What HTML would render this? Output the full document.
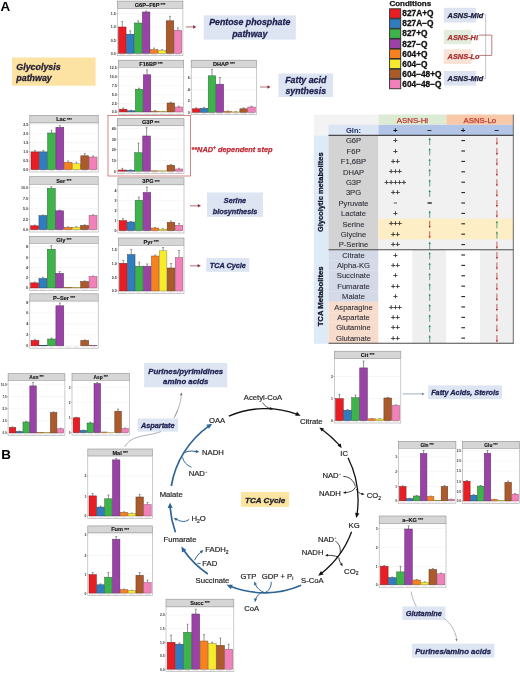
<!DOCTYPE html>
<html><head><meta charset="utf-8"><title>Figure</title>
<style>
html,body{margin:0;padding:0;background:#fff;}
body{width:520px;height:674px;overflow:hidden;}
svg{display:block;font-family:'Liberation Sans', Arial, sans-serif;}
</style></head><body>
<svg width="520" height="674" viewBox="0 0 520 674">
<rect x="0" y="0" width="520" height="674" fill="#ffffff"/>
<rect x="117.30" y="1.10" width="65.60" height="7.40" fill="#d6d6d6" stroke="#8f8f8f" stroke-width="0.6" />
<rect x="117.30" y="8.50" width="65.60" height="47.20" fill="#ffffff" stroke="#a8a8a8" stroke-width="0.6" />
<line x1="117.80" y1="13.80" x2="182.40" y2="13.80" stroke="#efefef" stroke-width="0.5" />
<text x="115.80" y="15.20" font-size="3.6" fill="#333" font-weight="bold" font-style="normal" text-anchor="end" >1.5</text>
<line x1="116.10" y1="13.80" x2="117.30" y2="13.80" stroke="#777" stroke-width="0.4" />
<line x1="117.80" y1="27.00" x2="182.40" y2="27.00" stroke="#efefef" stroke-width="0.5" />
<text x="115.80" y="28.40" font-size="3.6" fill="#333" font-weight="bold" font-style="normal" text-anchor="end" >1.0</text>
<line x1="116.10" y1="27.00" x2="117.30" y2="27.00" stroke="#777" stroke-width="0.4" />
<line x1="117.80" y1="40.20" x2="182.40" y2="40.20" stroke="#efefef" stroke-width="0.5" />
<text x="115.80" y="41.60" font-size="3.6" fill="#333" font-weight="bold" font-style="normal" text-anchor="end" >0.5</text>
<line x1="116.10" y1="40.20" x2="117.30" y2="40.20" stroke="#777" stroke-width="0.4" />
<line x1="117.80" y1="53.30" x2="182.40" y2="53.30" stroke="#efefef" stroke-width="0.5" />
<text x="115.80" y="54.70" font-size="3.6" fill="#333" font-weight="bold" font-style="normal" text-anchor="end" >0.0</text>
<line x1="116.10" y1="53.30" x2="117.30" y2="53.30" stroke="#777" stroke-width="0.4" />
<text x="150.10" y="6.82" font-size="5.6" font-weight="bold" fill="#111" stroke="#111" stroke-width="0.12" text-anchor="middle">G6P−F6P<tspan font-size="4.20" dy="-0.6"> ***</tspan></text>
<line x1="122.28" y1="27.00" x2="122.28" y2="21.50" stroke="#4a4a4a" stroke-width="0.6" />
<line x1="121.28" y1="21.50" x2="123.28" y2="21.50" stroke="#4a4a4a" stroke-width="0.5" />
<rect x="118.50" y="27.00" width="7.55" height="26.30" fill="#EA1C24" stroke="#7a2022" stroke-width="0.5" />
<line x1="130.22" y1="34.20" x2="130.22" y2="30.80" stroke="#4a4a4a" stroke-width="0.6" />
<line x1="129.22" y1="30.80" x2="131.22" y2="30.80" stroke="#4a4a4a" stroke-width="0.5" />
<rect x="126.45" y="34.20" width="7.55" height="19.10" fill="#2F7DBE" stroke="#2a4560" stroke-width="0.5" />
<line x1="138.17" y1="23.00" x2="138.17" y2="20.80" stroke="#4a4a4a" stroke-width="0.6" />
<line x1="137.17" y1="20.80" x2="139.17" y2="20.80" stroke="#4a4a4a" stroke-width="0.5" />
<rect x="134.40" y="23.00" width="7.55" height="30.30" fill="#3DB44A" stroke="#35603a" stroke-width="0.5" />
<line x1="146.12" y1="12.00" x2="146.12" y2="11.00" stroke="#4a4a4a" stroke-width="0.6" />
<line x1="145.12" y1="11.00" x2="147.12" y2="11.00" stroke="#4a4a4a" stroke-width="0.5" />
<rect x="142.35" y="12.00" width="7.55" height="41.30" fill="#9A42A6" stroke="#553560" stroke-width="0.5" />
<line x1="154.07" y1="49.60" x2="154.07" y2="48.00" stroke="#4a4a4a" stroke-width="0.6" />
<line x1="153.07" y1="48.00" x2="155.07" y2="48.00" stroke="#4a4a4a" stroke-width="0.5" />
<rect x="150.30" y="49.60" width="7.55" height="3.70" fill="#F7801F" stroke="#8a5a30" stroke-width="0.5" />
<line x1="162.03" y1="50.60" x2="162.03" y2="49.60" stroke="#4a4a4a" stroke-width="0.6" />
<line x1="161.03" y1="49.60" x2="163.03" y2="49.60" stroke="#4a4a4a" stroke-width="0.5" />
<rect x="158.25" y="50.60" width="7.55" height="2.70" fill="#F8EC2A" stroke="#8a8a40" stroke-width="0.5" />
<line x1="169.97" y1="20.80" x2="169.97" y2="16.30" stroke="#4a4a4a" stroke-width="0.6" />
<line x1="168.97" y1="16.30" x2="170.97" y2="16.30" stroke="#4a4a4a" stroke-width="0.5" />
<rect x="166.20" y="20.80" width="7.55" height="32.50" fill="#AC5A2A" stroke="#5a3a2a" stroke-width="0.5" />
<line x1="177.92" y1="30.20" x2="177.92" y2="27.90" stroke="#4a4a4a" stroke-width="0.6" />
<line x1="176.92" y1="27.90" x2="178.92" y2="27.90" stroke="#4a4a4a" stroke-width="0.5" />
<rect x="174.15" y="30.20" width="7.55" height="23.10" fill="#F280BA" stroke="#8a5a70" stroke-width="0.5" />
<rect x="119.67" y="54.00" width="5.20" height="0.90" fill="#e6dde2" stroke="none" stroke-width="0" />
<rect x="127.62" y="54.00" width="5.20" height="0.90" fill="#e6dde2" stroke="none" stroke-width="0" />
<rect x="135.57" y="54.00" width="5.20" height="0.90" fill="#e6dde2" stroke="none" stroke-width="0" />
<rect x="143.53" y="54.00" width="5.20" height="0.90" fill="#e6dde2" stroke="none" stroke-width="0" />
<rect x="151.47" y="54.00" width="5.20" height="0.90" fill="#e6dde2" stroke="none" stroke-width="0" />
<rect x="159.43" y="54.00" width="5.20" height="0.90" fill="#e6dde2" stroke="none" stroke-width="0" />
<rect x="167.38" y="54.00" width="5.20" height="0.90" fill="#e6dde2" stroke="none" stroke-width="0" />
<rect x="175.32" y="54.00" width="5.20" height="0.90" fill="#e6dde2" stroke="none" stroke-width="0" />
<rect x="118.30" y="60.20" width="65.40" height="7.30" fill="#d6d6d6" stroke="#8f8f8f" stroke-width="0.6" />
<rect x="118.30" y="67.50" width="65.40" height="46.90" fill="#ffffff" stroke="#a8a8a8" stroke-width="0.6" />
<line x1="118.80" y1="68.00" x2="183.20" y2="68.00" stroke="#efefef" stroke-width="0.5" />
<text x="116.80" y="69.40" font-size="3.6" fill="#333" font-weight="bold" font-style="normal" text-anchor="end" >12.5</text>
<line x1="117.10" y1="68.00" x2="118.30" y2="68.00" stroke="#777" stroke-width="0.4" />
<line x1="118.80" y1="76.70" x2="183.20" y2="76.70" stroke="#efefef" stroke-width="0.5" />
<text x="116.80" y="78.10" font-size="3.6" fill="#333" font-weight="bold" font-style="normal" text-anchor="end" >10.0</text>
<line x1="117.10" y1="76.70" x2="118.30" y2="76.70" stroke="#777" stroke-width="0.4" />
<line x1="118.80" y1="85.80" x2="183.20" y2="85.80" stroke="#efefef" stroke-width="0.5" />
<text x="116.80" y="87.20" font-size="3.6" fill="#333" font-weight="bold" font-style="normal" text-anchor="end" >7.5</text>
<line x1="117.10" y1="85.80" x2="118.30" y2="85.80" stroke="#777" stroke-width="0.4" />
<line x1="118.80" y1="94.80" x2="183.20" y2="94.80" stroke="#efefef" stroke-width="0.5" />
<text x="116.80" y="96.20" font-size="3.6" fill="#333" font-weight="bold" font-style="normal" text-anchor="end" >5.0</text>
<line x1="117.10" y1="94.80" x2="118.30" y2="94.80" stroke="#777" stroke-width="0.4" />
<line x1="118.80" y1="103.60" x2="183.20" y2="103.60" stroke="#efefef" stroke-width="0.5" />
<text x="116.80" y="105.00" font-size="3.6" fill="#333" font-weight="bold" font-style="normal" text-anchor="end" >2.5</text>
<line x1="117.10" y1="103.60" x2="118.30" y2="103.60" stroke="#777" stroke-width="0.4" />
<line x1="118.80" y1="112.00" x2="183.20" y2="112.00" stroke="#efefef" stroke-width="0.5" />
<text x="116.80" y="113.40" font-size="3.6" fill="#333" font-weight="bold" font-style="normal" text-anchor="end" >0.0</text>
<line x1="117.10" y1="112.00" x2="118.30" y2="112.00" stroke="#777" stroke-width="0.4" />
<text x="151.00" y="65.87" font-size="5.6" font-weight="bold" fill="#111" stroke="#111" stroke-width="0.12" text-anchor="middle">F16BP<tspan font-size="4.20" dy="-0.6"> ***</tspan></text>
<line x1="123.26" y1="109.20" x2="123.26" y2="108.00" stroke="#4a4a4a" stroke-width="0.6" />
<line x1="122.26" y1="108.00" x2="124.26" y2="108.00" stroke="#4a4a4a" stroke-width="0.5" />
<rect x="119.50" y="109.20" width="7.53" height="2.80" fill="#EA1C24" stroke="#7a2022" stroke-width="0.5" />
<line x1="131.19" y1="110.80" x2="131.19" y2="110.20" stroke="#4a4a4a" stroke-width="0.6" />
<line x1="130.19" y1="110.20" x2="132.19" y2="110.20" stroke="#4a4a4a" stroke-width="0.5" />
<rect x="127.42" y="110.80" width="7.53" height="1.20" fill="#2F7DBE" stroke="#2a4560" stroke-width="0.5" />
<line x1="139.11" y1="89.20" x2="139.11" y2="88.20" stroke="#4a4a4a" stroke-width="0.6" />
<line x1="138.11" y1="88.20" x2="140.11" y2="88.20" stroke="#4a4a4a" stroke-width="0.5" />
<rect x="135.35" y="89.20" width="7.53" height="22.80" fill="#3DB44A" stroke="#35603a" stroke-width="0.5" />
<line x1="147.04" y1="74.80" x2="147.04" y2="69.80" stroke="#4a4a4a" stroke-width="0.6" />
<line x1="146.04" y1="69.80" x2="148.04" y2="69.80" stroke="#4a4a4a" stroke-width="0.5" />
<rect x="143.27" y="74.80" width="7.53" height="37.20" fill="#9A42A6" stroke="#553560" stroke-width="0.5" />
<line x1="154.96" y1="111.20" x2="154.96" y2="110.50" stroke="#4a4a4a" stroke-width="0.6" />
<line x1="153.96" y1="110.50" x2="155.96" y2="110.50" stroke="#4a4a4a" stroke-width="0.5" />
<rect x="151.20" y="111.20" width="7.53" height="0.80" fill="#F7801F" stroke="#8a5a30" stroke-width="0.5" />
<line x1="162.89" y1="111.80" x2="162.89" y2="111.30" stroke="#4a4a4a" stroke-width="0.6" />
<line x1="161.89" y1="111.30" x2="163.89" y2="111.30" stroke="#4a4a4a" stroke-width="0.5" />
<rect x="159.12" y="111.60" width="7.53" height="0.40" fill="#F8EC2A" stroke="#8a8a40" stroke-width="0.5" />
<line x1="170.81" y1="103.00" x2="170.81" y2="102.20" stroke="#4a4a4a" stroke-width="0.6" />
<line x1="169.81" y1="102.20" x2="171.81" y2="102.20" stroke="#4a4a4a" stroke-width="0.5" />
<rect x="167.05" y="103.00" width="7.53" height="9.00" fill="#AC5A2A" stroke="#5a3a2a" stroke-width="0.5" />
<line x1="178.74" y1="107.00" x2="178.74" y2="106.20" stroke="#4a4a4a" stroke-width="0.6" />
<line x1="177.74" y1="106.20" x2="179.74" y2="106.20" stroke="#4a4a4a" stroke-width="0.5" />
<rect x="174.97" y="107.00" width="7.53" height="5.00" fill="#F280BA" stroke="#8a5a70" stroke-width="0.5" />
<rect x="120.66" y="112.70" width="5.20" height="0.90" fill="#e6dde2" stroke="none" stroke-width="0" />
<rect x="128.59" y="112.70" width="5.20" height="0.90" fill="#e6dde2" stroke="none" stroke-width="0" />
<rect x="136.51" y="112.70" width="5.20" height="0.90" fill="#e6dde2" stroke="none" stroke-width="0" />
<rect x="144.44" y="112.70" width="5.20" height="0.90" fill="#e6dde2" stroke="none" stroke-width="0" />
<rect x="152.36" y="112.70" width="5.20" height="0.90" fill="#e6dde2" stroke="none" stroke-width="0" />
<rect x="160.29" y="112.70" width="5.20" height="0.90" fill="#e6dde2" stroke="none" stroke-width="0" />
<rect x="168.21" y="112.70" width="5.20" height="0.90" fill="#e6dde2" stroke="none" stroke-width="0" />
<rect x="176.14" y="112.70" width="5.20" height="0.90" fill="#e6dde2" stroke="none" stroke-width="0" />
<rect x="191.20" y="60.20" width="65.30" height="7.30" fill="#d6d6d6" stroke="#8f8f8f" stroke-width="0.6" />
<rect x="191.20" y="67.50" width="65.30" height="47.20" fill="#ffffff" stroke="#a8a8a8" stroke-width="0.6" />
<line x1="191.70" y1="78.00" x2="256.00" y2="78.00" stroke="#efefef" stroke-width="0.5" />
<text x="189.70" y="79.40" font-size="3.6" fill="#333" font-weight="bold" font-style="normal" text-anchor="end" >6</text>
<line x1="190.00" y1="78.00" x2="191.20" y2="78.00" stroke="#777" stroke-width="0.4" />
<line x1="191.70" y1="89.60" x2="256.00" y2="89.60" stroke="#efefef" stroke-width="0.5" />
<text x="189.70" y="91.00" font-size="3.6" fill="#333" font-weight="bold" font-style="normal" text-anchor="end" >4</text>
<line x1="190.00" y1="89.60" x2="191.20" y2="89.60" stroke="#777" stroke-width="0.4" />
<line x1="191.70" y1="101.00" x2="256.00" y2="101.00" stroke="#efefef" stroke-width="0.5" />
<text x="189.70" y="102.40" font-size="3.6" fill="#333" font-weight="bold" font-style="normal" text-anchor="end" >2</text>
<line x1="190.00" y1="101.00" x2="191.20" y2="101.00" stroke="#777" stroke-width="0.4" />
<line x1="191.70" y1="112.30" x2="256.00" y2="112.30" stroke="#efefef" stroke-width="0.5" />
<text x="189.70" y="113.70" font-size="3.6" fill="#333" font-weight="bold" font-style="normal" text-anchor="end" >0</text>
<line x1="190.00" y1="112.30" x2="191.20" y2="112.30" stroke="#777" stroke-width="0.4" />
<text x="223.85" y="65.87" font-size="5.6" font-weight="bold" fill="#111" stroke="#111" stroke-width="0.12" text-anchor="middle">DHAP<tspan font-size="4.20" dy="-0.6"> ***</tspan></text>
<line x1="196.16" y1="108.80" x2="196.16" y2="107.80" stroke="#4a4a4a" stroke-width="0.6" />
<line x1="195.16" y1="107.80" x2="197.16" y2="107.80" stroke="#4a4a4a" stroke-width="0.5" />
<rect x="192.40" y="108.80" width="7.52" height="3.50" fill="#EA1C24" stroke="#7a2022" stroke-width="0.5" />
<line x1="204.07" y1="108.30" x2="204.07" y2="107.30" stroke="#4a4a4a" stroke-width="0.6" />
<line x1="203.07" y1="107.30" x2="205.07" y2="107.30" stroke="#4a4a4a" stroke-width="0.5" />
<rect x="200.31" y="108.30" width="7.52" height="4.00" fill="#2F7DBE" stroke="#2a4560" stroke-width="0.5" />
<line x1="211.98" y1="75.80" x2="211.98" y2="69.40" stroke="#4a4a4a" stroke-width="0.6" />
<line x1="210.98" y1="69.40" x2="212.98" y2="69.40" stroke="#4a4a4a" stroke-width="0.5" />
<rect x="208.22" y="75.80" width="7.52" height="36.50" fill="#3DB44A" stroke="#35603a" stroke-width="0.5" />
<line x1="219.89" y1="84.20" x2="219.89" y2="77.50" stroke="#4a4a4a" stroke-width="0.6" />
<line x1="218.89" y1="77.50" x2="220.89" y2="77.50" stroke="#4a4a4a" stroke-width="0.5" />
<rect x="216.14" y="84.20" width="7.52" height="28.10" fill="#9A42A6" stroke="#553560" stroke-width="0.5" />
<line x1="227.81" y1="111.30" x2="227.81" y2="110.80" stroke="#4a4a4a" stroke-width="0.6" />
<line x1="226.81" y1="110.80" x2="228.81" y2="110.80" stroke="#4a4a4a" stroke-width="0.5" />
<rect x="224.05" y="111.30" width="7.52" height="1.00" fill="#F7801F" stroke="#8a5a30" stroke-width="0.5" />
<line x1="235.72" y1="112.00" x2="235.72" y2="111.60" stroke="#4a4a4a" stroke-width="0.6" />
<line x1="234.72" y1="111.60" x2="236.72" y2="111.60" stroke="#4a4a4a" stroke-width="0.5" />
<rect x="231.96" y="111.90" width="7.52" height="0.40" fill="#F8EC2A" stroke="#8a8a40" stroke-width="0.5" />
<line x1="243.63" y1="108.80" x2="243.63" y2="107.80" stroke="#4a4a4a" stroke-width="0.6" />
<line x1="242.63" y1="107.80" x2="244.63" y2="107.80" stroke="#4a4a4a" stroke-width="0.5" />
<rect x="239.87" y="108.80" width="7.52" height="3.50" fill="#AC5A2A" stroke="#5a3a2a" stroke-width="0.5" />
<line x1="251.54" y1="107.00" x2="251.54" y2="106.20" stroke="#4a4a4a" stroke-width="0.6" />
<line x1="250.54" y1="106.20" x2="252.54" y2="106.20" stroke="#4a4a4a" stroke-width="0.5" />
<rect x="247.79" y="107.00" width="7.52" height="5.30" fill="#F280BA" stroke="#8a5a70" stroke-width="0.5" />
<rect x="193.56" y="113.00" width="5.20" height="0.90" fill="#e6dde2" stroke="none" stroke-width="0" />
<rect x="201.47" y="113.00" width="5.20" height="0.90" fill="#e6dde2" stroke="none" stroke-width="0" />
<rect x="209.38" y="113.00" width="5.20" height="0.90" fill="#e6dde2" stroke="none" stroke-width="0" />
<rect x="217.29" y="113.00" width="5.20" height="0.90" fill="#e6dde2" stroke="none" stroke-width="0" />
<rect x="225.21" y="113.00" width="5.20" height="0.90" fill="#e6dde2" stroke="none" stroke-width="0" />
<rect x="233.12" y="113.00" width="5.20" height="0.90" fill="#e6dde2" stroke="none" stroke-width="0" />
<rect x="241.03" y="113.00" width="5.20" height="0.90" fill="#e6dde2" stroke="none" stroke-width="0" />
<rect x="248.94" y="113.00" width="5.20" height="0.90" fill="#e6dde2" stroke="none" stroke-width="0" />
<rect x="29.80" y="115.40" width="68.40" height="7.60" fill="#d6d6d6" stroke="#8f8f8f" stroke-width="0.6" />
<rect x="29.80" y="123.00" width="68.40" height="49.00" fill="#ffffff" stroke="#a8a8a8" stroke-width="0.6" />
<line x1="30.30" y1="124.80" x2="97.70" y2="124.80" stroke="#efefef" stroke-width="0.5" />
<text x="28.30" y="126.20" font-size="3.6" fill="#333" font-weight="bold" font-style="normal" text-anchor="end" >2.5</text>
<line x1="28.60" y1="124.80" x2="29.80" y2="124.80" stroke="#777" stroke-width="0.4" />
<line x1="30.30" y1="133.70" x2="97.70" y2="133.70" stroke="#efefef" stroke-width="0.5" />
<text x="28.30" y="135.10" font-size="3.6" fill="#333" font-weight="bold" font-style="normal" text-anchor="end" >2.0</text>
<line x1="28.60" y1="133.70" x2="29.80" y2="133.70" stroke="#777" stroke-width="0.4" />
<line x1="30.30" y1="142.70" x2="97.70" y2="142.70" stroke="#efefef" stroke-width="0.5" />
<text x="28.30" y="144.10" font-size="3.6" fill="#333" font-weight="bold" font-style="normal" text-anchor="end" >1.5</text>
<line x1="28.60" y1="142.70" x2="29.80" y2="142.70" stroke="#777" stroke-width="0.4" />
<line x1="30.30" y1="151.70" x2="97.70" y2="151.70" stroke="#efefef" stroke-width="0.5" />
<text x="28.30" y="153.10" font-size="3.6" fill="#333" font-weight="bold" font-style="normal" text-anchor="end" >1.0</text>
<line x1="28.60" y1="151.70" x2="29.80" y2="151.70" stroke="#777" stroke-width="0.4" />
<line x1="30.30" y1="160.60" x2="97.70" y2="160.60" stroke="#efefef" stroke-width="0.5" />
<text x="28.30" y="162.00" font-size="3.6" fill="#333" font-weight="bold" font-style="normal" text-anchor="end" >0.5</text>
<line x1="28.60" y1="160.60" x2="29.80" y2="160.60" stroke="#777" stroke-width="0.4" />
<line x1="30.30" y1="169.60" x2="97.70" y2="169.60" stroke="#efefef" stroke-width="0.5" />
<text x="28.30" y="171.00" font-size="3.6" fill="#333" font-weight="bold" font-style="normal" text-anchor="end" >0.0</text>
<line x1="28.60" y1="169.60" x2="29.80" y2="169.60" stroke="#777" stroke-width="0.4" />
<text x="64.00" y="121.22" font-size="5.6" font-weight="bold" fill="#111" stroke="#111" stroke-width="0.12" text-anchor="middle">Lac<tspan font-size="4.20" dy="-0.6"> ***</tspan></text>
<line x1="34.95" y1="151.90" x2="34.95" y2="150.40" stroke="#4a4a4a" stroke-width="0.6" />
<line x1="33.95" y1="150.40" x2="35.95" y2="150.40" stroke="#4a4a4a" stroke-width="0.5" />
<rect x="31.01" y="151.90" width="7.88" height="17.70" fill="#EA1C24" stroke="#7a2022" stroke-width="0.5" />
<line x1="43.25" y1="151.90" x2="43.25" y2="150.40" stroke="#4a4a4a" stroke-width="0.6" />
<line x1="42.25" y1="150.40" x2="44.25" y2="150.40" stroke="#4a4a4a" stroke-width="0.5" />
<rect x="39.31" y="151.90" width="7.88" height="17.70" fill="#2F7DBE" stroke="#2a4560" stroke-width="0.5" />
<line x1="51.55" y1="133.00" x2="51.55" y2="130.30" stroke="#4a4a4a" stroke-width="0.6" />
<line x1="50.55" y1="130.30" x2="52.55" y2="130.30" stroke="#4a4a4a" stroke-width="0.5" />
<rect x="47.61" y="133.00" width="7.88" height="36.60" fill="#3DB44A" stroke="#35603a" stroke-width="0.5" />
<line x1="59.85" y1="127.30" x2="59.85" y2="125.60" stroke="#4a4a4a" stroke-width="0.6" />
<line x1="58.85" y1="125.60" x2="60.85" y2="125.60" stroke="#4a4a4a" stroke-width="0.5" />
<rect x="55.91" y="127.30" width="7.88" height="42.30" fill="#9A42A6" stroke="#553560" stroke-width="0.5" />
<line x1="68.15" y1="162.30" x2="68.15" y2="161.00" stroke="#4a4a4a" stroke-width="0.6" />
<line x1="67.15" y1="161.00" x2="69.15" y2="161.00" stroke="#4a4a4a" stroke-width="0.5" />
<rect x="64.21" y="162.30" width="7.89" height="7.30" fill="#F7801F" stroke="#8a5a30" stroke-width="0.5" />
<line x1="76.45" y1="163.80" x2="76.45" y2="162.30" stroke="#4a4a4a" stroke-width="0.6" />
<line x1="75.45" y1="162.30" x2="77.45" y2="162.30" stroke="#4a4a4a" stroke-width="0.5" />
<rect x="72.51" y="163.80" width="7.89" height="5.80" fill="#F8EC2A" stroke="#8a8a40" stroke-width="0.5" />
<line x1="84.75" y1="155.80" x2="84.75" y2="153.60" stroke="#4a4a4a" stroke-width="0.6" />
<line x1="83.75" y1="153.60" x2="85.75" y2="153.60" stroke="#4a4a4a" stroke-width="0.5" />
<rect x="80.81" y="155.80" width="7.89" height="13.80" fill="#AC5A2A" stroke="#5a3a2a" stroke-width="0.5" />
<line x1="93.05" y1="157.00" x2="93.05" y2="155.90" stroke="#4a4a4a" stroke-width="0.6" />
<line x1="92.05" y1="155.90" x2="94.05" y2="155.90" stroke="#4a4a4a" stroke-width="0.5" />
<rect x="89.11" y="157.00" width="7.89" height="12.60" fill="#F280BA" stroke="#8a5a70" stroke-width="0.5" />
<rect x="32.35" y="170.30" width="5.20" height="0.90" fill="#e6dde2" stroke="none" stroke-width="0" />
<rect x="40.65" y="170.30" width="5.20" height="0.90" fill="#e6dde2" stroke="none" stroke-width="0" />
<rect x="48.95" y="170.30" width="5.20" height="0.90" fill="#e6dde2" stroke="none" stroke-width="0" />
<rect x="57.25" y="170.30" width="5.20" height="0.90" fill="#e6dde2" stroke="none" stroke-width="0" />
<rect x="65.55" y="170.30" width="5.20" height="0.90" fill="#e6dde2" stroke="none" stroke-width="0" />
<rect x="73.85" y="170.30" width="5.20" height="0.90" fill="#e6dde2" stroke="none" stroke-width="0" />
<rect x="82.15" y="170.30" width="5.20" height="0.90" fill="#e6dde2" stroke="none" stroke-width="0" />
<rect x="90.45" y="170.30" width="5.20" height="0.90" fill="#e6dde2" stroke="none" stroke-width="0" />
<rect x="117.30" y="118.70" width="66.70" height="7.10" fill="#d6d6d6" stroke="#8f8f8f" stroke-width="0.6" />
<rect x="117.30" y="125.80" width="66.70" height="47.80" fill="#ffffff" stroke="#a8a8a8" stroke-width="0.6" />
<line x1="117.80" y1="128.70" x2="183.50" y2="128.70" stroke="#efefef" stroke-width="0.5" />
<text x="115.80" y="130.10" font-size="3.6" fill="#333" font-weight="bold" font-style="normal" text-anchor="end" >40</text>
<line x1="116.10" y1="128.70" x2="117.30" y2="128.70" stroke="#777" stroke-width="0.4" />
<line x1="117.80" y1="139.20" x2="183.50" y2="139.20" stroke="#efefef" stroke-width="0.5" />
<text x="115.80" y="140.60" font-size="3.6" fill="#333" font-weight="bold" font-style="normal" text-anchor="end" >30</text>
<line x1="116.10" y1="139.20" x2="117.30" y2="139.20" stroke="#777" stroke-width="0.4" />
<line x1="117.80" y1="149.80" x2="183.50" y2="149.80" stroke="#efefef" stroke-width="0.5" />
<text x="115.80" y="151.20" font-size="3.6" fill="#333" font-weight="bold" font-style="normal" text-anchor="end" >20</text>
<line x1="116.10" y1="149.80" x2="117.30" y2="149.80" stroke="#777" stroke-width="0.4" />
<line x1="117.80" y1="160.40" x2="183.50" y2="160.40" stroke="#efefef" stroke-width="0.5" />
<text x="115.80" y="161.80" font-size="3.6" fill="#333" font-weight="bold" font-style="normal" text-anchor="end" >10</text>
<line x1="116.10" y1="160.40" x2="117.30" y2="160.40" stroke="#777" stroke-width="0.4" />
<line x1="117.80" y1="171.20" x2="183.50" y2="171.20" stroke="#efefef" stroke-width="0.5" />
<text x="115.80" y="172.60" font-size="3.6" fill="#333" font-weight="bold" font-style="normal" text-anchor="end" >0</text>
<line x1="116.10" y1="171.20" x2="117.30" y2="171.20" stroke="#777" stroke-width="0.4" />
<text x="150.65" y="124.27" font-size="5.6" font-weight="bold" fill="#111" stroke="#111" stroke-width="0.12" text-anchor="middle">G3P<tspan font-size="4.20" dy="-0.6"> ***</tspan></text>
<line x1="122.34" y1="170.00" x2="122.34" y2="168.30" stroke="#4a4a4a" stroke-width="0.6" />
<line x1="121.34" y1="168.30" x2="123.34" y2="168.30" stroke="#4a4a4a" stroke-width="0.5" />
<rect x="118.50" y="170.00" width="7.68" height="1.20" fill="#EA1C24" stroke="#7a2022" stroke-width="0.5" />
<line x1="130.43" y1="170.20" x2="130.43" y2="169.80" stroke="#4a4a4a" stroke-width="0.6" />
<line x1="129.43" y1="169.80" x2="131.43" y2="169.80" stroke="#4a4a4a" stroke-width="0.5" />
<rect x="126.59" y="170.20" width="7.68" height="1.00" fill="#2F7DBE" stroke="#2a4560" stroke-width="0.5" />
<line x1="138.52" y1="152.70" x2="138.52" y2="143.00" stroke="#4a4a4a" stroke-width="0.6" />
<line x1="137.52" y1="143.00" x2="139.52" y2="143.00" stroke="#4a4a4a" stroke-width="0.5" />
<rect x="134.68" y="152.70" width="7.68" height="18.50" fill="#3DB44A" stroke="#35603a" stroke-width="0.5" />
<line x1="146.61" y1="136.00" x2="146.61" y2="127.30" stroke="#4a4a4a" stroke-width="0.6" />
<line x1="145.61" y1="127.30" x2="147.61" y2="127.30" stroke="#4a4a4a" stroke-width="0.5" />
<rect x="142.76" y="136.00" width="7.68" height="35.20" fill="#9A42A6" stroke="#553560" stroke-width="0.5" />
<rect x="150.85" y="170.80" width="7.68" height="0.40" fill="#F7801F" stroke="#8a5a30" stroke-width="0.5" />
<rect x="158.94" y="170.80" width="7.68" height="0.40" fill="#F8EC2A" stroke="#8a8a40" stroke-width="0.5" />
<line x1="170.87" y1="165.20" x2="170.87" y2="164.60" stroke="#4a4a4a" stroke-width="0.6" />
<line x1="169.87" y1="164.60" x2="171.87" y2="164.60" stroke="#4a4a4a" stroke-width="0.5" />
<rect x="167.03" y="165.20" width="7.68" height="6.00" fill="#AC5A2A" stroke="#5a3a2a" stroke-width="0.5" />
<line x1="178.96" y1="169.00" x2="178.96" y2="168.20" stroke="#4a4a4a" stroke-width="0.6" />
<line x1="177.96" y1="168.20" x2="179.96" y2="168.20" stroke="#4a4a4a" stroke-width="0.5" />
<rect x="175.11" y="169.00" width="7.68" height="2.20" fill="#F280BA" stroke="#8a5a70" stroke-width="0.5" />
<rect x="119.74" y="171.90" width="5.20" height="0.90" fill="#e6dde2" stroke="none" stroke-width="0" />
<rect x="127.83" y="171.90" width="5.20" height="0.90" fill="#e6dde2" stroke="none" stroke-width="0" />
<rect x="135.92" y="171.90" width="5.20" height="0.90" fill="#e6dde2" stroke="none" stroke-width="0" />
<rect x="144.01" y="171.90" width="5.20" height="0.90" fill="#e6dde2" stroke="none" stroke-width="0" />
<rect x="152.09" y="171.90" width="5.20" height="0.90" fill="#e6dde2" stroke="none" stroke-width="0" />
<rect x="160.18" y="171.90" width="5.20" height="0.90" fill="#e6dde2" stroke="none" stroke-width="0" />
<rect x="168.27" y="171.90" width="5.20" height="0.90" fill="#e6dde2" stroke="none" stroke-width="0" />
<rect x="176.36" y="171.90" width="5.20" height="0.90" fill="#e6dde2" stroke="none" stroke-width="0" />
<rect x="29.40" y="176.70" width="68.80" height="7.70" fill="#d6d6d6" stroke="#8f8f8f" stroke-width="0.6" />
<rect x="29.40" y="184.40" width="68.80" height="47.60" fill="#ffffff" stroke="#a8a8a8" stroke-width="0.6" />
<line x1="29.90" y1="187.70" x2="97.70" y2="187.70" stroke="#efefef" stroke-width="0.5" />
<text x="27.90" y="189.10" font-size="3.6" fill="#333" font-weight="bold" font-style="normal" text-anchor="end" >10.0</text>
<line x1="28.20" y1="187.70" x2="29.40" y2="187.70" stroke="#777" stroke-width="0.4" />
<line x1="29.90" y1="198.30" x2="97.70" y2="198.30" stroke="#efefef" stroke-width="0.5" />
<text x="27.90" y="199.70" font-size="3.6" fill="#333" font-weight="bold" font-style="normal" text-anchor="end" >7.5</text>
<line x1="28.20" y1="198.30" x2="29.40" y2="198.30" stroke="#777" stroke-width="0.4" />
<line x1="29.90" y1="208.80" x2="97.70" y2="208.80" stroke="#efefef" stroke-width="0.5" />
<text x="27.90" y="210.20" font-size="3.6" fill="#333" font-weight="bold" font-style="normal" text-anchor="end" >5.0</text>
<line x1="28.20" y1="208.80" x2="29.40" y2="208.80" stroke="#777" stroke-width="0.4" />
<line x1="29.90" y1="219.40" x2="97.70" y2="219.40" stroke="#efefef" stroke-width="0.5" />
<text x="27.90" y="220.80" font-size="3.6" fill="#333" font-weight="bold" font-style="normal" text-anchor="end" >2.5</text>
<line x1="28.20" y1="219.40" x2="29.40" y2="219.40" stroke="#777" stroke-width="0.4" />
<line x1="29.90" y1="229.60" x2="97.70" y2="229.60" stroke="#efefef" stroke-width="0.5" />
<text x="27.90" y="231.00" font-size="3.6" fill="#333" font-weight="bold" font-style="normal" text-anchor="end" >0.0</text>
<line x1="28.20" y1="229.60" x2="29.40" y2="229.60" stroke="#777" stroke-width="0.4" />
<text x="63.80" y="182.57" font-size="5.6" font-weight="bold" fill="#111" stroke="#111" stroke-width="0.12" text-anchor="middle">Ser<tspan font-size="4.20" dy="-0.6"> ***</tspan></text>
<line x1="34.58" y1="225.80" x2="34.58" y2="225.00" stroke="#4a4a4a" stroke-width="0.6" />
<line x1="33.58" y1="225.00" x2="35.58" y2="225.00" stroke="#4a4a4a" stroke-width="0.5" />
<rect x="30.61" y="225.80" width="7.93" height="3.80" fill="#EA1C24" stroke="#7a2022" stroke-width="0.5" />
<line x1="42.93" y1="215.60" x2="42.93" y2="215.00" stroke="#4a4a4a" stroke-width="0.6" />
<line x1="41.93" y1="215.00" x2="43.93" y2="215.00" stroke="#4a4a4a" stroke-width="0.5" />
<rect x="38.96" y="215.60" width="7.93" height="14.00" fill="#2F7DBE" stroke="#2a4560" stroke-width="0.5" />
<line x1="51.28" y1="188.30" x2="51.28" y2="186.60" stroke="#4a4a4a" stroke-width="0.6" />
<line x1="50.28" y1="186.60" x2="52.28" y2="186.60" stroke="#4a4a4a" stroke-width="0.5" />
<rect x="47.31" y="188.30" width="7.93" height="41.30" fill="#3DB44A" stroke="#35603a" stroke-width="0.5" />
<line x1="59.63" y1="210.80" x2="59.63" y2="210.20" stroke="#4a4a4a" stroke-width="0.6" />
<line x1="58.63" y1="210.20" x2="60.63" y2="210.20" stroke="#4a4a4a" stroke-width="0.5" />
<rect x="55.66" y="210.80" width="7.93" height="18.80" fill="#9A42A6" stroke="#553560" stroke-width="0.5" />
<line x1="67.98" y1="227.30" x2="67.98" y2="226.80" stroke="#4a4a4a" stroke-width="0.6" />
<line x1="66.98" y1="226.80" x2="68.98" y2="226.80" stroke="#4a4a4a" stroke-width="0.5" />
<rect x="64.01" y="227.30" width="7.93" height="2.30" fill="#F7801F" stroke="#8a5a30" stroke-width="0.5" />
<line x1="76.33" y1="227.30" x2="76.33" y2="226.60" stroke="#4a4a4a" stroke-width="0.6" />
<line x1="75.33" y1="226.60" x2="77.33" y2="226.60" stroke="#4a4a4a" stroke-width="0.5" />
<rect x="72.36" y="227.30" width="7.93" height="2.30" fill="#F8EC2A" stroke="#8a8a40" stroke-width="0.5" />
<line x1="84.67" y1="225.40" x2="84.67" y2="224.80" stroke="#4a4a4a" stroke-width="0.6" />
<line x1="83.67" y1="224.80" x2="85.67" y2="224.80" stroke="#4a4a4a" stroke-width="0.5" />
<rect x="80.71" y="225.40" width="7.93" height="4.20" fill="#AC5A2A" stroke="#5a3a2a" stroke-width="0.5" />
<line x1="93.03" y1="215.40" x2="93.03" y2="214.70" stroke="#4a4a4a" stroke-width="0.6" />
<line x1="92.03" y1="214.70" x2="94.03" y2="214.70" stroke="#4a4a4a" stroke-width="0.5" />
<rect x="89.06" y="215.40" width="7.93" height="14.20" fill="#F280BA" stroke="#8a5a70" stroke-width="0.5" />
<rect x="31.98" y="230.30" width="5.20" height="0.90" fill="#e6dde2" stroke="none" stroke-width="0" />
<rect x="40.32" y="230.30" width="5.20" height="0.90" fill="#e6dde2" stroke="none" stroke-width="0" />
<rect x="48.68" y="230.30" width="5.20" height="0.90" fill="#e6dde2" stroke="none" stroke-width="0" />
<rect x="57.02" y="230.30" width="5.20" height="0.90" fill="#e6dde2" stroke="none" stroke-width="0" />
<rect x="65.38" y="230.30" width="5.20" height="0.90" fill="#e6dde2" stroke="none" stroke-width="0" />
<rect x="73.73" y="230.30" width="5.20" height="0.90" fill="#e6dde2" stroke="none" stroke-width="0" />
<rect x="82.08" y="230.30" width="5.20" height="0.90" fill="#e6dde2" stroke="none" stroke-width="0" />
<rect x="90.43" y="230.30" width="5.20" height="0.90" fill="#e6dde2" stroke="none" stroke-width="0" />
<rect x="117.90" y="177.80" width="66.10" height="7.00" fill="#d6d6d6" stroke="#8f8f8f" stroke-width="0.6" />
<rect x="117.90" y="184.80" width="66.10" height="48.20" fill="#ffffff" stroke="#a8a8a8" stroke-width="0.6" />
<line x1="118.40" y1="190.20" x2="183.50" y2="190.20" stroke="#efefef" stroke-width="0.5" />
<text x="116.40" y="191.60" font-size="3.6" fill="#333" font-weight="bold" font-style="normal" text-anchor="end" >4</text>
<line x1="116.70" y1="190.20" x2="117.90" y2="190.20" stroke="#777" stroke-width="0.4" />
<line x1="118.40" y1="200.40" x2="183.50" y2="200.40" stroke="#efefef" stroke-width="0.5" />
<text x="116.40" y="201.80" font-size="3.6" fill="#333" font-weight="bold" font-style="normal" text-anchor="end" >3</text>
<line x1="116.70" y1="200.40" x2="117.90" y2="200.40" stroke="#777" stroke-width="0.4" />
<line x1="118.40" y1="210.40" x2="183.50" y2="210.40" stroke="#efefef" stroke-width="0.5" />
<text x="116.40" y="211.80" font-size="3.6" fill="#333" font-weight="bold" font-style="normal" text-anchor="end" >2</text>
<line x1="116.70" y1="210.40" x2="117.90" y2="210.40" stroke="#777" stroke-width="0.4" />
<line x1="118.40" y1="220.40" x2="183.50" y2="220.40" stroke="#efefef" stroke-width="0.5" />
<text x="116.40" y="221.80" font-size="3.6" fill="#333" font-weight="bold" font-style="normal" text-anchor="end" >1</text>
<line x1="116.70" y1="220.40" x2="117.90" y2="220.40" stroke="#777" stroke-width="0.4" />
<line x1="118.40" y1="230.60" x2="183.50" y2="230.60" stroke="#efefef" stroke-width="0.5" />
<text x="116.40" y="232.00" font-size="3.6" fill="#333" font-weight="bold" font-style="normal" text-anchor="end" >0</text>
<line x1="116.70" y1="230.60" x2="117.90" y2="230.60" stroke="#777" stroke-width="0.4" />
<text x="150.95" y="183.32" font-size="5.6" font-weight="bold" fill="#111" stroke="#111" stroke-width="0.12" text-anchor="middle">3PG<tspan font-size="4.20" dy="-0.6"> ***</tspan></text>
<line x1="122.91" y1="220.60" x2="122.91" y2="218.50" stroke="#4a4a4a" stroke-width="0.6" />
<line x1="121.91" y1="218.50" x2="123.91" y2="218.50" stroke="#4a4a4a" stroke-width="0.5" />
<rect x="119.10" y="220.60" width="7.61" height="10.00" fill="#EA1C24" stroke="#7a2022" stroke-width="0.5" />
<line x1="130.92" y1="222.00" x2="130.92" y2="221.50" stroke="#4a4a4a" stroke-width="0.6" />
<line x1="129.92" y1="221.50" x2="131.92" y2="221.50" stroke="#4a4a4a" stroke-width="0.5" />
<rect x="127.11" y="222.00" width="7.61" height="8.60" fill="#2F7DBE" stroke="#2a4560" stroke-width="0.5" />
<line x1="138.93" y1="200.20" x2="138.93" y2="197.00" stroke="#4a4a4a" stroke-width="0.6" />
<line x1="137.93" y1="197.00" x2="139.93" y2="197.00" stroke="#4a4a4a" stroke-width="0.5" />
<rect x="135.13" y="200.20" width="7.61" height="30.40" fill="#3DB44A" stroke="#35603a" stroke-width="0.5" />
<line x1="146.94" y1="192.50" x2="146.94" y2="187.00" stroke="#4a4a4a" stroke-width="0.6" />
<line x1="145.94" y1="187.00" x2="147.94" y2="187.00" stroke="#4a4a4a" stroke-width="0.5" />
<rect x="143.14" y="192.50" width="7.61" height="38.10" fill="#9A42A6" stroke="#553560" stroke-width="0.5" />
<line x1="154.96" y1="228.00" x2="154.96" y2="227.50" stroke="#4a4a4a" stroke-width="0.6" />
<line x1="153.96" y1="227.50" x2="155.96" y2="227.50" stroke="#4a4a4a" stroke-width="0.5" />
<rect x="151.15" y="228.00" width="7.61" height="2.60" fill="#F7801F" stroke="#8a5a30" stroke-width="0.5" />
<line x1="162.97" y1="229.20" x2="162.97" y2="228.60" stroke="#4a4a4a" stroke-width="0.6" />
<line x1="161.97" y1="228.60" x2="163.97" y2="228.60" stroke="#4a4a4a" stroke-width="0.5" />
<rect x="159.16" y="229.20" width="7.61" height="1.40" fill="#F8EC2A" stroke="#8a8a40" stroke-width="0.5" />
<line x1="170.98" y1="222.30" x2="170.98" y2="221.00" stroke="#4a4a4a" stroke-width="0.6" />
<line x1="169.98" y1="221.00" x2="171.98" y2="221.00" stroke="#4a4a4a" stroke-width="0.5" />
<rect x="167.18" y="222.30" width="7.61" height="8.30" fill="#AC5A2A" stroke="#5a3a2a" stroke-width="0.5" />
<line x1="178.99" y1="225.20" x2="178.99" y2="223.50" stroke="#4a4a4a" stroke-width="0.6" />
<line x1="177.99" y1="223.50" x2="179.99" y2="223.50" stroke="#4a4a4a" stroke-width="0.5" />
<rect x="175.19" y="225.20" width="7.61" height="5.40" fill="#F280BA" stroke="#8a5a70" stroke-width="0.5" />
<rect x="120.31" y="231.30" width="5.20" height="0.90" fill="#e6dde2" stroke="none" stroke-width="0" />
<rect x="128.32" y="231.30" width="5.20" height="0.90" fill="#e6dde2" stroke="none" stroke-width="0" />
<rect x="136.33" y="231.30" width="5.20" height="0.90" fill="#e6dde2" stroke="none" stroke-width="0" />
<rect x="144.34" y="231.30" width="5.20" height="0.90" fill="#e6dde2" stroke="none" stroke-width="0" />
<rect x="152.36" y="231.30" width="5.20" height="0.90" fill="#e6dde2" stroke="none" stroke-width="0" />
<rect x="160.37" y="231.30" width="5.20" height="0.90" fill="#e6dde2" stroke="none" stroke-width="0" />
<rect x="168.38" y="231.30" width="5.20" height="0.90" fill="#e6dde2" stroke="none" stroke-width="0" />
<rect x="176.39" y="231.30" width="5.20" height="0.90" fill="#e6dde2" stroke="none" stroke-width="0" />
<rect x="29.40" y="236.30" width="68.80" height="7.20" fill="#d6d6d6" stroke="#8f8f8f" stroke-width="0.6" />
<rect x="29.40" y="243.50" width="68.80" height="46.90" fill="#ffffff" stroke="#a8a8a8" stroke-width="0.6" />
<line x1="29.90" y1="246.70" x2="97.70" y2="246.70" stroke="#efefef" stroke-width="0.5" />
<text x="27.90" y="248.10" font-size="3.6" fill="#333" font-weight="bold" font-style="normal" text-anchor="end" >8</text>
<line x1="28.20" y1="246.70" x2="29.40" y2="246.70" stroke="#777" stroke-width="0.4" />
<line x1="29.90" y1="257.30" x2="97.70" y2="257.30" stroke="#efefef" stroke-width="0.5" />
<text x="27.90" y="258.70" font-size="3.6" fill="#333" font-weight="bold" font-style="normal" text-anchor="end" >6</text>
<line x1="28.20" y1="257.30" x2="29.40" y2="257.30" stroke="#777" stroke-width="0.4" />
<line x1="29.90" y1="267.50" x2="97.70" y2="267.50" stroke="#efefef" stroke-width="0.5" />
<text x="27.90" y="268.90" font-size="3.6" fill="#333" font-weight="bold" font-style="normal" text-anchor="end" >4</text>
<line x1="28.20" y1="267.50" x2="29.40" y2="267.50" stroke="#777" stroke-width="0.4" />
<line x1="29.90" y1="277.70" x2="97.70" y2="277.70" stroke="#efefef" stroke-width="0.5" />
<text x="27.90" y="279.10" font-size="3.6" fill="#333" font-weight="bold" font-style="normal" text-anchor="end" >2</text>
<line x1="28.20" y1="277.70" x2="29.40" y2="277.70" stroke="#777" stroke-width="0.4" />
<line x1="29.90" y1="288.00" x2="97.70" y2="288.00" stroke="#efefef" stroke-width="0.5" />
<text x="27.90" y="289.40" font-size="3.6" fill="#333" font-weight="bold" font-style="normal" text-anchor="end" >0</text>
<line x1="28.20" y1="288.00" x2="29.40" y2="288.00" stroke="#777" stroke-width="0.4" />
<text x="63.80" y="241.92" font-size="5.6" font-weight="bold" fill="#111" stroke="#111" stroke-width="0.12" text-anchor="middle">Gly<tspan font-size="4.20" dy="-0.6"> ***</tspan></text>
<line x1="34.58" y1="282.90" x2="34.58" y2="282.00" stroke="#4a4a4a" stroke-width="0.6" />
<line x1="33.58" y1="282.00" x2="35.58" y2="282.00" stroke="#4a4a4a" stroke-width="0.5" />
<rect x="30.61" y="282.90" width="7.93" height="5.10" fill="#EA1C24" stroke="#7a2022" stroke-width="0.5" />
<line x1="42.93" y1="278.50" x2="42.93" y2="277.20" stroke="#4a4a4a" stroke-width="0.6" />
<line x1="41.93" y1="277.20" x2="43.93" y2="277.20" stroke="#4a4a4a" stroke-width="0.5" />
<rect x="38.96" y="278.50" width="7.93" height="9.50" fill="#2F7DBE" stroke="#2a4560" stroke-width="0.5" />
<line x1="51.28" y1="249.20" x2="51.28" y2="245.50" stroke="#4a4a4a" stroke-width="0.6" />
<line x1="50.28" y1="245.50" x2="52.28" y2="245.50" stroke="#4a4a4a" stroke-width="0.5" />
<rect x="47.31" y="249.20" width="7.93" height="38.80" fill="#3DB44A" stroke="#35603a" stroke-width="0.5" />
<line x1="59.63" y1="273.30" x2="59.63" y2="271.50" stroke="#4a4a4a" stroke-width="0.6" />
<line x1="58.63" y1="271.50" x2="60.63" y2="271.50" stroke="#4a4a4a" stroke-width="0.5" />
<rect x="55.66" y="273.30" width="7.93" height="14.70" fill="#9A42A6" stroke="#553560" stroke-width="0.5" />
<rect x="64.01" y="287.30" width="7.93" height="0.70" fill="#F7801F" stroke="#8a5a30" stroke-width="0.5" />
<rect x="72.36" y="287.50" width="7.93" height="0.50" fill="#F8EC2A" stroke="#8a8a40" stroke-width="0.5" />
<line x1="84.67" y1="281.50" x2="84.67" y2="280.80" stroke="#4a4a4a" stroke-width="0.6" />
<line x1="83.67" y1="280.80" x2="85.67" y2="280.80" stroke="#4a4a4a" stroke-width="0.5" />
<rect x="80.71" y="281.50" width="7.93" height="6.50" fill="#AC5A2A" stroke="#5a3a2a" stroke-width="0.5" />
<line x1="93.03" y1="276.50" x2="93.03" y2="276.00" stroke="#4a4a4a" stroke-width="0.6" />
<line x1="92.03" y1="276.00" x2="94.03" y2="276.00" stroke="#4a4a4a" stroke-width="0.5" />
<rect x="89.06" y="276.50" width="7.93" height="11.50" fill="#F280BA" stroke="#8a5a70" stroke-width="0.5" />
<rect x="31.98" y="288.70" width="5.20" height="0.90" fill="#e6dde2" stroke="none" stroke-width="0" />
<rect x="40.32" y="288.70" width="5.20" height="0.90" fill="#e6dde2" stroke="none" stroke-width="0" />
<rect x="48.68" y="288.70" width="5.20" height="0.90" fill="#e6dde2" stroke="none" stroke-width="0" />
<rect x="57.02" y="288.70" width="5.20" height="0.90" fill="#e6dde2" stroke="none" stroke-width="0" />
<rect x="65.38" y="288.70" width="5.20" height="0.90" fill="#e6dde2" stroke="none" stroke-width="0" />
<rect x="73.73" y="288.70" width="5.20" height="0.90" fill="#e6dde2" stroke="none" stroke-width="0" />
<rect x="82.08" y="288.70" width="5.20" height="0.90" fill="#e6dde2" stroke="none" stroke-width="0" />
<rect x="90.43" y="288.70" width="5.20" height="0.90" fill="#e6dde2" stroke="none" stroke-width="0" />
<rect x="118.30" y="238.00" width="65.70" height="7.40" fill="#d6d6d6" stroke="#8f8f8f" stroke-width="0.6" />
<rect x="118.30" y="245.40" width="65.70" height="48.00" fill="#ffffff" stroke="#a8a8a8" stroke-width="0.6" />
<line x1="118.80" y1="249.20" x2="183.50" y2="249.20" stroke="#efefef" stroke-width="0.5" />
<text x="116.80" y="250.60" font-size="3.6" fill="#333" font-weight="bold" font-style="normal" text-anchor="end" >1.5</text>
<line x1="117.10" y1="249.20" x2="118.30" y2="249.20" stroke="#777" stroke-width="0.4" />
<line x1="118.80" y1="263.70" x2="183.50" y2="263.70" stroke="#efefef" stroke-width="0.5" />
<text x="116.80" y="265.10" font-size="3.6" fill="#333" font-weight="bold" font-style="normal" text-anchor="end" >1.0</text>
<line x1="117.10" y1="263.70" x2="118.30" y2="263.70" stroke="#777" stroke-width="0.4" />
<line x1="118.80" y1="277.10" x2="183.50" y2="277.10" stroke="#efefef" stroke-width="0.5" />
<text x="116.80" y="278.50" font-size="3.6" fill="#333" font-weight="bold" font-style="normal" text-anchor="end" >0.5</text>
<line x1="117.10" y1="277.10" x2="118.30" y2="277.10" stroke="#777" stroke-width="0.4" />
<line x1="118.80" y1="291.00" x2="183.50" y2="291.00" stroke="#efefef" stroke-width="0.5" />
<text x="116.80" y="292.40" font-size="3.6" fill="#333" font-weight="bold" font-style="normal" text-anchor="end" >0.0</text>
<line x1="117.10" y1="291.00" x2="118.30" y2="291.00" stroke="#777" stroke-width="0.4" />
<text x="151.15" y="243.72" font-size="5.6" font-weight="bold" fill="#111" stroke="#111" stroke-width="0.12" text-anchor="middle">Pyr<tspan font-size="4.20" dy="-0.6"> ***</tspan></text>
<line x1="123.28" y1="263.30" x2="123.28" y2="260.50" stroke="#4a4a4a" stroke-width="0.6" />
<line x1="122.28" y1="260.50" x2="124.28" y2="260.50" stroke="#4a4a4a" stroke-width="0.5" />
<rect x="119.50" y="263.30" width="7.56" height="27.70" fill="#EA1C24" stroke="#7a2022" stroke-width="0.5" />
<line x1="131.24" y1="254.60" x2="131.24" y2="249.50" stroke="#4a4a4a" stroke-width="0.6" />
<line x1="130.24" y1="249.50" x2="132.24" y2="249.50" stroke="#4a4a4a" stroke-width="0.5" />
<rect x="127.46" y="254.60" width="7.56" height="36.40" fill="#2F7DBE" stroke="#2a4560" stroke-width="0.5" />
<line x1="139.21" y1="266.20" x2="139.21" y2="262.00" stroke="#4a4a4a" stroke-width="0.6" />
<line x1="138.21" y1="262.00" x2="140.21" y2="262.00" stroke="#4a4a4a" stroke-width="0.5" />
<rect x="135.42" y="266.20" width="7.56" height="24.80" fill="#3DB44A" stroke="#35603a" stroke-width="0.5" />
<line x1="147.17" y1="266.20" x2="147.17" y2="264.00" stroke="#4a4a4a" stroke-width="0.6" />
<line x1="146.17" y1="264.00" x2="148.17" y2="264.00" stroke="#4a4a4a" stroke-width="0.5" />
<rect x="143.39" y="266.20" width="7.56" height="24.80" fill="#9A42A6" stroke="#553560" stroke-width="0.5" />
<line x1="155.13" y1="256.00" x2="155.13" y2="255.00" stroke="#4a4a4a" stroke-width="0.6" />
<line x1="154.13" y1="255.00" x2="156.13" y2="255.00" stroke="#4a4a4a" stroke-width="0.5" />
<rect x="151.35" y="256.00" width="7.56" height="35.00" fill="#F7801F" stroke="#8a5a30" stroke-width="0.5" />
<line x1="163.09" y1="250.80" x2="163.09" y2="247.50" stroke="#4a4a4a" stroke-width="0.6" />
<line x1="162.09" y1="247.50" x2="164.09" y2="247.50" stroke="#4a4a4a" stroke-width="0.5" />
<rect x="159.31" y="250.80" width="7.56" height="40.20" fill="#F8EC2A" stroke="#8a8a40" stroke-width="0.5" />
<line x1="171.06" y1="268.00" x2="171.06" y2="263.50" stroke="#4a4a4a" stroke-width="0.6" />
<line x1="170.06" y1="263.50" x2="172.06" y2="263.50" stroke="#4a4a4a" stroke-width="0.5" />
<rect x="167.27" y="268.00" width="7.56" height="23.00" fill="#AC5A2A" stroke="#5a3a2a" stroke-width="0.5" />
<line x1="179.02" y1="257.50" x2="179.02" y2="250.50" stroke="#4a4a4a" stroke-width="0.6" />
<line x1="178.02" y1="250.50" x2="180.02" y2="250.50" stroke="#4a4a4a" stroke-width="0.5" />
<rect x="175.24" y="257.50" width="7.56" height="33.50" fill="#F280BA" stroke="#8a5a70" stroke-width="0.5" />
<rect x="120.68" y="291.70" width="5.20" height="0.90" fill="#e6dde2" stroke="none" stroke-width="0" />
<rect x="128.64" y="291.70" width="5.20" height="0.90" fill="#e6dde2" stroke="none" stroke-width="0" />
<rect x="136.61" y="291.70" width="5.20" height="0.90" fill="#e6dde2" stroke="none" stroke-width="0" />
<rect x="144.57" y="291.70" width="5.20" height="0.90" fill="#e6dde2" stroke="none" stroke-width="0" />
<rect x="152.53" y="291.70" width="5.20" height="0.90" fill="#e6dde2" stroke="none" stroke-width="0" />
<rect x="160.49" y="291.70" width="5.20" height="0.90" fill="#e6dde2" stroke="none" stroke-width="0" />
<rect x="168.46" y="291.70" width="5.20" height="0.90" fill="#e6dde2" stroke="none" stroke-width="0" />
<rect x="176.42" y="291.70" width="5.20" height="0.90" fill="#e6dde2" stroke="none" stroke-width="0" />
<rect x="29.80" y="293.80" width="68.40" height="7.40" fill="#d6d6d6" stroke="#8f8f8f" stroke-width="0.6" />
<rect x="29.80" y="301.20" width="68.40" height="47.00" fill="#ffffff" stroke="#a8a8a8" stroke-width="0.6" />
<line x1="30.30" y1="302.10" x2="97.70" y2="302.10" stroke="#efefef" stroke-width="0.5" />
<text x="28.30" y="303.50" font-size="3.6" fill="#333" font-weight="bold" font-style="normal" text-anchor="end" >8</text>
<line x1="28.60" y1="302.10" x2="29.80" y2="302.10" stroke="#777" stroke-width="0.4" />
<line x1="30.30" y1="313.00" x2="97.70" y2="313.00" stroke="#efefef" stroke-width="0.5" />
<text x="28.30" y="314.40" font-size="3.6" fill="#333" font-weight="bold" font-style="normal" text-anchor="end" >6</text>
<line x1="28.60" y1="313.00" x2="29.80" y2="313.00" stroke="#777" stroke-width="0.4" />
<line x1="30.30" y1="324.00" x2="97.70" y2="324.00" stroke="#efefef" stroke-width="0.5" />
<text x="28.30" y="325.40" font-size="3.6" fill="#333" font-weight="bold" font-style="normal" text-anchor="end" >4</text>
<line x1="28.60" y1="324.00" x2="29.80" y2="324.00" stroke="#777" stroke-width="0.4" />
<line x1="30.30" y1="334.80" x2="97.70" y2="334.80" stroke="#efefef" stroke-width="0.5" />
<text x="28.30" y="336.20" font-size="3.6" fill="#333" font-weight="bold" font-style="normal" text-anchor="end" >2</text>
<line x1="28.60" y1="334.80" x2="29.80" y2="334.80" stroke="#777" stroke-width="0.4" />
<line x1="30.30" y1="345.80" x2="97.70" y2="345.80" stroke="#efefef" stroke-width="0.5" />
<text x="28.30" y="347.20" font-size="3.6" fill="#333" font-weight="bold" font-style="normal" text-anchor="end" >0</text>
<line x1="28.60" y1="345.80" x2="29.80" y2="345.80" stroke="#777" stroke-width="0.4" />
<text x="64.00" y="299.52" font-size="5.6" font-weight="bold" fill="#111" stroke="#111" stroke-width="0.12" text-anchor="middle">P−Ser<tspan font-size="4.20" dy="-0.6"> ***</tspan></text>
<line x1="34.95" y1="340.40" x2="34.95" y2="339.50" stroke="#4a4a4a" stroke-width="0.6" />
<line x1="33.95" y1="339.50" x2="35.95" y2="339.50" stroke="#4a4a4a" stroke-width="0.5" />
<rect x="31.01" y="340.40" width="7.88" height="5.40" fill="#EA1C24" stroke="#7a2022" stroke-width="0.5" />
<rect x="39.31" y="345.30" width="7.88" height="0.50" fill="#2F7DBE" stroke="#2a4560" stroke-width="0.5" />
<line x1="51.55" y1="339.00" x2="51.55" y2="338.00" stroke="#4a4a4a" stroke-width="0.6" />
<line x1="50.55" y1="338.00" x2="52.55" y2="338.00" stroke="#4a4a4a" stroke-width="0.5" />
<rect x="47.61" y="339.00" width="7.88" height="6.80" fill="#3DB44A" stroke="#35603a" stroke-width="0.5" />
<line x1="59.85" y1="305.80" x2="59.85" y2="303.00" stroke="#4a4a4a" stroke-width="0.6" />
<line x1="58.85" y1="303.00" x2="60.85" y2="303.00" stroke="#4a4a4a" stroke-width="0.5" />
<rect x="55.91" y="305.80" width="7.88" height="40.00" fill="#9A42A6" stroke="#553560" stroke-width="0.5" />
<line x1="84.75" y1="340.40" x2="84.75" y2="339.80" stroke="#4a4a4a" stroke-width="0.6" />
<line x1="83.75" y1="339.80" x2="85.75" y2="339.80" stroke="#4a4a4a" stroke-width="0.5" />
<rect x="80.81" y="340.40" width="7.89" height="5.40" fill="#AC5A2A" stroke="#5a3a2a" stroke-width="0.5" />
<rect x="89.11" y="345.30" width="7.89" height="0.50" fill="#F280BA" stroke="#8a5a70" stroke-width="0.5" />
<rect x="32.35" y="346.50" width="5.20" height="0.90" fill="#e6dde2" stroke="none" stroke-width="0" />
<rect x="40.65" y="346.50" width="5.20" height="0.90" fill="#e6dde2" stroke="none" stroke-width="0" />
<rect x="48.95" y="346.50" width="5.20" height="0.90" fill="#e6dde2" stroke="none" stroke-width="0" />
<rect x="57.25" y="346.50" width="5.20" height="0.90" fill="#e6dde2" stroke="none" stroke-width="0" />
<rect x="65.55" y="346.50" width="5.20" height="0.90" fill="#e6dde2" stroke="none" stroke-width="0" />
<rect x="73.85" y="346.50" width="5.20" height="0.90" fill="#e6dde2" stroke="none" stroke-width="0" />
<rect x="82.15" y="346.50" width="5.20" height="0.90" fill="#e6dde2" stroke="none" stroke-width="0" />
<rect x="90.45" y="346.50" width="5.20" height="0.90" fill="#e6dde2" stroke="none" stroke-width="0" />
<rect x="8.10" y="373.70" width="56.80" height="6.80" fill="#d6d6d6" stroke="#8f8f8f" stroke-width="0.6" />
<rect x="8.10" y="380.50" width="56.80" height="54.90" fill="#ffffff" stroke="#a8a8a8" stroke-width="0.6" />
<line x1="8.60" y1="384.20" x2="64.40" y2="384.20" stroke="#efefef" stroke-width="0.5" />
<text x="6.60" y="385.60" font-size="3.0" fill="#333" font-weight="bold" font-style="normal" text-anchor="end" >10.0</text>
<line x1="6.90" y1="384.20" x2="8.10" y2="384.20" stroke="#777" stroke-width="0.4" />
<line x1="8.60" y1="396.60" x2="64.40" y2="396.60" stroke="#efefef" stroke-width="0.5" />
<text x="6.60" y="398.00" font-size="3.0" fill="#333" font-weight="bold" font-style="normal" text-anchor="end" >7.5</text>
<line x1="6.90" y1="396.60" x2="8.10" y2="396.60" stroke="#777" stroke-width="0.4" />
<line x1="8.60" y1="408.70" x2="64.40" y2="408.70" stroke="#efefef" stroke-width="0.5" />
<text x="6.60" y="410.10" font-size="3.0" fill="#333" font-weight="bold" font-style="normal" text-anchor="end" >5.0</text>
<line x1="6.90" y1="408.70" x2="8.10" y2="408.70" stroke="#777" stroke-width="0.4" />
<line x1="8.60" y1="420.90" x2="64.40" y2="420.90" stroke="#efefef" stroke-width="0.5" />
<text x="6.60" y="422.30" font-size="3.0" fill="#333" font-weight="bold" font-style="normal" text-anchor="end" >2.5</text>
<line x1="6.90" y1="420.90" x2="8.10" y2="420.90" stroke="#777" stroke-width="0.4" />
<line x1="8.60" y1="433.00" x2="64.40" y2="433.00" stroke="#efefef" stroke-width="0.5" />
<text x="6.60" y="434.40" font-size="3.0" fill="#333" font-weight="bold" font-style="normal" text-anchor="end" >0.0</text>
<line x1="6.90" y1="433.00" x2="8.10" y2="433.00" stroke="#777" stroke-width="0.4" />
<text x="36.50" y="378.83" font-size="4.8" font-weight="bold" fill="#111" stroke="#111" stroke-width="0.12" text-anchor="middle">Asn<tspan font-size="3.60" dy="-0.6"> ***</tspan></text>
<line x1="12.53" y1="427.50" x2="12.53" y2="426.80" stroke="#4a4a4a" stroke-width="0.6" />
<line x1="11.53" y1="426.80" x2="13.53" y2="426.80" stroke="#4a4a4a" stroke-width="0.5" />
<rect x="9.27" y="427.50" width="6.51" height="5.50" fill="#EA1C24" stroke="#7a2022" stroke-width="0.5" />
<line x1="19.38" y1="431.50" x2="19.38" y2="431.00" stroke="#4a4a4a" stroke-width="0.6" />
<line x1="18.38" y1="431.00" x2="20.38" y2="431.00" stroke="#4a4a4a" stroke-width="0.5" />
<rect x="16.12" y="431.50" width="6.51" height="1.50" fill="#2F7DBE" stroke="#2a4560" stroke-width="0.5" />
<line x1="26.23" y1="422.00" x2="26.23" y2="421.30" stroke="#4a4a4a" stroke-width="0.6" />
<line x1="25.23" y1="421.30" x2="27.23" y2="421.30" stroke="#4a4a4a" stroke-width="0.5" />
<rect x="22.97" y="422.00" width="6.51" height="11.00" fill="#3DB44A" stroke="#35603a" stroke-width="0.5" />
<line x1="33.08" y1="385.90" x2="33.08" y2="382.50" stroke="#4a4a4a" stroke-width="0.6" />
<line x1="32.08" y1="382.50" x2="34.08" y2="382.50" stroke="#4a4a4a" stroke-width="0.5" />
<rect x="29.82" y="385.90" width="6.51" height="47.10" fill="#9A42A6" stroke="#553560" stroke-width="0.5" />
<rect x="36.67" y="432.50" width="6.51" height="0.50" fill="#F7801F" stroke="#8a5a30" stroke-width="0.5" />
<rect x="43.52" y="432.60" width="6.51" height="0.40" fill="#F8EC2A" stroke="#8a8a40" stroke-width="0.5" />
<line x1="53.62" y1="412.50" x2="53.62" y2="411.80" stroke="#4a4a4a" stroke-width="0.6" />
<line x1="52.62" y1="411.80" x2="54.62" y2="411.80" stroke="#4a4a4a" stroke-width="0.5" />
<rect x="50.37" y="412.50" width="6.51" height="20.50" fill="#AC5A2A" stroke="#5a3a2a" stroke-width="0.5" />
<line x1="60.48" y1="428.80" x2="60.48" y2="428.20" stroke="#4a4a4a" stroke-width="0.6" />
<line x1="59.48" y1="428.20" x2="61.48" y2="428.20" stroke="#4a4a4a" stroke-width="0.5" />
<rect x="57.22" y="428.80" width="6.51" height="4.20" fill="#F280BA" stroke="#8a5a70" stroke-width="0.5" />
<rect x="9.93" y="433.70" width="5.20" height="0.90" fill="#e6dde2" stroke="none" stroke-width="0" />
<rect x="16.77" y="433.70" width="5.20" height="0.90" fill="#e6dde2" stroke="none" stroke-width="0" />
<rect x="23.62" y="433.70" width="5.20" height="0.90" fill="#e6dde2" stroke="none" stroke-width="0" />
<rect x="30.47" y="433.70" width="5.20" height="0.90" fill="#e6dde2" stroke="none" stroke-width="0" />
<rect x="37.32" y="433.70" width="5.20" height="0.90" fill="#e6dde2" stroke="none" stroke-width="0" />
<rect x="44.17" y="433.70" width="5.20" height="0.90" fill="#e6dde2" stroke="none" stroke-width="0" />
<rect x="51.02" y="433.70" width="5.20" height="0.90" fill="#e6dde2" stroke="none" stroke-width="0" />
<rect x="57.88" y="433.70" width="5.20" height="0.90" fill="#e6dde2" stroke="none" stroke-width="0" />
<rect x="72.00" y="373.50" width="57.50" height="6.90" fill="#d6d6d6" stroke="#8f8f8f" stroke-width="0.6" />
<rect x="72.00" y="380.40" width="57.50" height="54.70" fill="#ffffff" stroke="#a8a8a8" stroke-width="0.6" />
<line x1="72.50" y1="387.30" x2="129.00" y2="387.30" stroke="#efefef" stroke-width="0.5" />
<text x="70.50" y="388.70" font-size="3.0" fill="#333" font-weight="bold" font-style="normal" text-anchor="end" >3</text>
<line x1="70.80" y1="387.30" x2="72.00" y2="387.30" stroke="#777" stroke-width="0.4" />
<line x1="72.50" y1="402.40" x2="129.00" y2="402.40" stroke="#efefef" stroke-width="0.5" />
<text x="70.50" y="403.80" font-size="3.0" fill="#333" font-weight="bold" font-style="normal" text-anchor="end" >2</text>
<line x1="70.80" y1="402.40" x2="72.00" y2="402.40" stroke="#777" stroke-width="0.4" />
<line x1="72.50" y1="418.00" x2="129.00" y2="418.00" stroke="#efefef" stroke-width="0.5" />
<text x="70.50" y="419.40" font-size="3.0" fill="#333" font-weight="bold" font-style="normal" text-anchor="end" >1</text>
<line x1="70.80" y1="418.00" x2="72.00" y2="418.00" stroke="#777" stroke-width="0.4" />
<line x1="72.50" y1="432.70" x2="129.00" y2="432.70" stroke="#efefef" stroke-width="0.5" />
<text x="70.50" y="434.10" font-size="3.0" fill="#333" font-weight="bold" font-style="normal" text-anchor="end" >0</text>
<line x1="70.80" y1="432.70" x2="72.00" y2="432.70" stroke="#777" stroke-width="0.4" />
<text x="100.75" y="378.68" font-size="4.8" font-weight="bold" fill="#111" stroke="#111" stroke-width="0.12" text-anchor="middle">Asp<tspan font-size="3.60" dy="-0.6"> ***</tspan></text>
<line x1="76.47" y1="417.80" x2="76.47" y2="417.20" stroke="#4a4a4a" stroke-width="0.6" />
<line x1="75.47" y1="417.20" x2="77.47" y2="417.20" stroke="#4a4a4a" stroke-width="0.5" />
<rect x="73.17" y="417.80" width="6.59" height="14.90" fill="#EA1C24" stroke="#7a2022" stroke-width="0.5" />
<line x1="83.41" y1="430.40" x2="83.41" y2="430.00" stroke="#4a4a4a" stroke-width="0.6" />
<line x1="82.41" y1="430.00" x2="84.41" y2="430.00" stroke="#4a4a4a" stroke-width="0.5" />
<rect x="80.11" y="430.40" width="6.59" height="2.30" fill="#2F7DBE" stroke="#2a4560" stroke-width="0.5" />
<line x1="90.34" y1="423.00" x2="90.34" y2="422.20" stroke="#4a4a4a" stroke-width="0.6" />
<line x1="89.34" y1="422.20" x2="91.34" y2="422.20" stroke="#4a4a4a" stroke-width="0.5" />
<rect x="87.05" y="423.00" width="6.59" height="9.70" fill="#3DB44A" stroke="#35603a" stroke-width="0.5" />
<line x1="97.28" y1="383.50" x2="97.28" y2="382.50" stroke="#4a4a4a" stroke-width="0.6" />
<line x1="96.28" y1="382.50" x2="98.28" y2="382.50" stroke="#4a4a4a" stroke-width="0.5" />
<rect x="93.99" y="383.50" width="6.59" height="49.20" fill="#9A42A6" stroke="#553560" stroke-width="0.5" />
<rect x="100.92" y="432.00" width="6.59" height="0.70" fill="#F7801F" stroke="#8a5a30" stroke-width="0.5" />
<rect x="107.86" y="432.30" width="6.59" height="0.40" fill="#F8EC2A" stroke="#8a8a40" stroke-width="0.5" />
<line x1="118.09" y1="411.20" x2="118.09" y2="409.00" stroke="#4a4a4a" stroke-width="0.6" />
<line x1="117.09" y1="409.00" x2="119.09" y2="409.00" stroke="#4a4a4a" stroke-width="0.5" />
<rect x="114.80" y="411.20" width="6.59" height="21.50" fill="#AC5A2A" stroke="#5a3a2a" stroke-width="0.5" />
<line x1="125.03" y1="428.50" x2="125.03" y2="428.00" stroke="#4a4a4a" stroke-width="0.6" />
<line x1="124.03" y1="428.00" x2="126.03" y2="428.00" stroke="#4a4a4a" stroke-width="0.5" />
<rect x="121.74" y="428.50" width="6.59" height="4.20" fill="#F280BA" stroke="#8a5a70" stroke-width="0.5" />
<rect x="73.87" y="433.40" width="5.20" height="0.90" fill="#e6dde2" stroke="none" stroke-width="0" />
<rect x="80.81" y="433.40" width="5.20" height="0.90" fill="#e6dde2" stroke="none" stroke-width="0" />
<rect x="87.74" y="433.40" width="5.20" height="0.90" fill="#e6dde2" stroke="none" stroke-width="0" />
<rect x="94.68" y="433.40" width="5.20" height="0.90" fill="#e6dde2" stroke="none" stroke-width="0" />
<rect x="101.62" y="433.40" width="5.20" height="0.90" fill="#e6dde2" stroke="none" stroke-width="0" />
<rect x="108.56" y="433.40" width="5.20" height="0.90" fill="#e6dde2" stroke="none" stroke-width="0" />
<rect x="115.49" y="433.40" width="5.20" height="0.90" fill="#e6dde2" stroke="none" stroke-width="0" />
<rect x="122.43" y="433.40" width="5.20" height="0.90" fill="#e6dde2" stroke="none" stroke-width="0" />
<rect x="334.40" y="351.20" width="66.40" height="7.50" fill="#d6d6d6" stroke="#8f8f8f" stroke-width="0.6" />
<rect x="334.40" y="358.70" width="66.40" height="64.30" fill="#ffffff" stroke="#a8a8a8" stroke-width="0.6" />
<line x1="334.90" y1="376.50" x2="400.30" y2="376.50" stroke="#efefef" stroke-width="0.5" />
<text x="332.90" y="377.90" font-size="3.3" fill="#333" font-weight="bold" font-style="normal" text-anchor="end" >2</text>
<line x1="333.20" y1="376.50" x2="334.40" y2="376.50" stroke="#777" stroke-width="0.4" />
<line x1="334.90" y1="398.70" x2="400.30" y2="398.70" stroke="#efefef" stroke-width="0.5" />
<text x="332.90" y="400.10" font-size="3.3" fill="#333" font-weight="bold" font-style="normal" text-anchor="end" >1</text>
<line x1="333.20" y1="398.70" x2="334.40" y2="398.70" stroke="#777" stroke-width="0.4" />
<line x1="334.90" y1="420.60" x2="400.30" y2="420.60" stroke="#efefef" stroke-width="0.5" />
<text x="332.90" y="422.00" font-size="3.3" fill="#333" font-weight="bold" font-style="normal" text-anchor="end" >0</text>
<line x1="333.20" y1="420.60" x2="334.40" y2="420.60" stroke="#777" stroke-width="0.4" />
<text x="367.60" y="356.97" font-size="5.6" font-weight="bold" fill="#111" stroke="#111" stroke-width="0.12" text-anchor="middle">Cit<tspan font-size="4.20" dy="-0.6"> ***</tspan></text>
<line x1="339.43" y1="398.70" x2="339.43" y2="394.50" stroke="#4a4a4a" stroke-width="0.6" />
<line x1="338.43" y1="394.50" x2="340.43" y2="394.50" stroke="#4a4a4a" stroke-width="0.5" />
<rect x="335.60" y="398.70" width="7.65" height="21.90" fill="#EA1C24" stroke="#7a2022" stroke-width="0.5" />
<line x1="347.48" y1="410.20" x2="347.48" y2="409.60" stroke="#4a4a4a" stroke-width="0.6" />
<line x1="346.48" y1="409.60" x2="348.48" y2="409.60" stroke="#4a4a4a" stroke-width="0.5" />
<rect x="343.65" y="410.20" width="7.65" height="10.40" fill="#2F7DBE" stroke="#2a4560" stroke-width="0.5" />
<line x1="355.53" y1="397.70" x2="355.53" y2="395.00" stroke="#4a4a4a" stroke-width="0.6" />
<line x1="354.53" y1="395.00" x2="356.53" y2="395.00" stroke="#4a4a4a" stroke-width="0.5" />
<rect x="351.70" y="397.70" width="7.65" height="22.90" fill="#3DB44A" stroke="#35603a" stroke-width="0.5" />
<line x1="363.58" y1="367.90" x2="363.58" y2="361.00" stroke="#4a4a4a" stroke-width="0.6" />
<line x1="362.58" y1="361.00" x2="364.58" y2="361.00" stroke="#4a4a4a" stroke-width="0.5" />
<rect x="359.75" y="367.90" width="7.65" height="52.70" fill="#9A42A6" stroke="#553560" stroke-width="0.5" />
<line x1="371.63" y1="418.80" x2="371.63" y2="418.40" stroke="#4a4a4a" stroke-width="0.6" />
<line x1="370.63" y1="418.40" x2="372.63" y2="418.40" stroke="#4a4a4a" stroke-width="0.5" />
<rect x="367.80" y="418.80" width="7.65" height="1.80" fill="#F7801F" stroke="#8a5a30" stroke-width="0.5" />
<line x1="379.68" y1="419.00" x2="379.68" y2="418.60" stroke="#4a4a4a" stroke-width="0.6" />
<line x1="378.68" y1="418.60" x2="380.68" y2="418.60" stroke="#4a4a4a" stroke-width="0.5" />
<rect x="375.85" y="419.00" width="7.65" height="1.60" fill="#F8EC2A" stroke="#8a8a40" stroke-width="0.5" />
<line x1="387.73" y1="398.00" x2="387.73" y2="397.40" stroke="#4a4a4a" stroke-width="0.6" />
<line x1="386.73" y1="397.40" x2="388.73" y2="397.40" stroke="#4a4a4a" stroke-width="0.5" />
<rect x="383.90" y="398.00" width="7.65" height="22.60" fill="#AC5A2A" stroke="#5a3a2a" stroke-width="0.5" />
<line x1="395.78" y1="405.40" x2="395.78" y2="404.80" stroke="#4a4a4a" stroke-width="0.6" />
<line x1="394.78" y1="404.80" x2="396.78" y2="404.80" stroke="#4a4a4a" stroke-width="0.5" />
<rect x="391.95" y="405.40" width="7.65" height="15.20" fill="#F280BA" stroke="#8a5a70" stroke-width="0.5" />
<rect x="336.82" y="421.30" width="5.20" height="0.90" fill="#e6dde2" stroke="none" stroke-width="0" />
<rect x="344.87" y="421.30" width="5.20" height="0.90" fill="#e6dde2" stroke="none" stroke-width="0" />
<rect x="352.92" y="421.30" width="5.20" height="0.90" fill="#e6dde2" stroke="none" stroke-width="0" />
<rect x="360.97" y="421.30" width="5.20" height="0.90" fill="#e6dde2" stroke="none" stroke-width="0" />
<rect x="369.02" y="421.30" width="5.20" height="0.90" fill="#e6dde2" stroke="none" stroke-width="0" />
<rect x="377.07" y="421.30" width="5.20" height="0.90" fill="#e6dde2" stroke="none" stroke-width="0" />
<rect x="385.12" y="421.30" width="5.20" height="0.90" fill="#e6dde2" stroke="none" stroke-width="0" />
<rect x="393.17" y="421.30" width="5.20" height="0.90" fill="#e6dde2" stroke="none" stroke-width="0" />
<rect x="87.80" y="449.00" width="64.60" height="7.10" fill="#d6d6d6" stroke="#8f8f8f" stroke-width="0.6" />
<rect x="87.80" y="456.10" width="64.60" height="62.30" fill="#ffffff" stroke="#a8a8a8" stroke-width="0.6" />
<line x1="88.30" y1="476.00" x2="151.90" y2="476.00" stroke="#efefef" stroke-width="0.5" />
<text x="86.30" y="477.40" font-size="3.3" fill="#333" font-weight="bold" font-style="normal" text-anchor="end" >2</text>
<line x1="86.60" y1="476.00" x2="87.80" y2="476.00" stroke="#777" stroke-width="0.4" />
<line x1="88.30" y1="496.20" x2="151.90" y2="496.20" stroke="#efefef" stroke-width="0.5" />
<text x="86.30" y="497.60" font-size="3.3" fill="#333" font-weight="bold" font-style="normal" text-anchor="end" >1</text>
<line x1="86.60" y1="496.20" x2="87.80" y2="496.20" stroke="#777" stroke-width="0.4" />
<line x1="88.30" y1="516.00" x2="151.90" y2="516.00" stroke="#efefef" stroke-width="0.5" />
<text x="86.30" y="517.40" font-size="3.3" fill="#333" font-weight="bold" font-style="normal" text-anchor="end" >0</text>
<line x1="86.60" y1="516.00" x2="87.80" y2="516.00" stroke="#777" stroke-width="0.4" />
<text x="120.10" y="454.57" font-size="5.6" font-weight="bold" fill="#111" stroke="#111" stroke-width="0.12" text-anchor="middle">Mal<tspan font-size="4.20" dy="-0.6"> ***</tspan></text>
<line x1="92.71" y1="495.90" x2="92.71" y2="493.50" stroke="#4a4a4a" stroke-width="0.6" />
<line x1="91.71" y1="493.50" x2="93.71" y2="493.50" stroke="#4a4a4a" stroke-width="0.5" />
<rect x="89.00" y="495.90" width="7.43" height="20.10" fill="#EA1C24" stroke="#7a2022" stroke-width="0.5" />
<line x1="100.54" y1="507.10" x2="100.54" y2="506.00" stroke="#4a4a4a" stroke-width="0.6" />
<line x1="99.54" y1="506.00" x2="101.54" y2="506.00" stroke="#4a4a4a" stroke-width="0.5" />
<rect x="96.82" y="507.10" width="7.43" height="8.90" fill="#2F7DBE" stroke="#2a4560" stroke-width="0.5" />
<line x1="108.36" y1="498.80" x2="108.36" y2="495.00" stroke="#4a4a4a" stroke-width="0.6" />
<line x1="107.36" y1="495.00" x2="109.36" y2="495.00" stroke="#4a4a4a" stroke-width="0.5" />
<rect x="104.65" y="498.80" width="7.43" height="17.20" fill="#3DB44A" stroke="#35603a" stroke-width="0.5" />
<line x1="116.19" y1="459.90" x2="116.19" y2="458.50" stroke="#4a4a4a" stroke-width="0.6" />
<line x1="115.19" y1="458.50" x2="117.19" y2="458.50" stroke="#4a4a4a" stroke-width="0.5" />
<rect x="112.47" y="459.90" width="7.43" height="56.10" fill="#9A42A6" stroke="#553560" stroke-width="0.5" />
<line x1="124.01" y1="512.30" x2="124.01" y2="511.80" stroke="#4a4a4a" stroke-width="0.6" />
<line x1="123.01" y1="511.80" x2="125.01" y2="511.80" stroke="#4a4a4a" stroke-width="0.5" />
<rect x="120.30" y="512.30" width="7.43" height="3.70" fill="#F7801F" stroke="#8a5a30" stroke-width="0.5" />
<line x1="131.84" y1="513.50" x2="131.84" y2="513.00" stroke="#4a4a4a" stroke-width="0.6" />
<line x1="130.84" y1="513.00" x2="132.84" y2="513.00" stroke="#4a4a4a" stroke-width="0.5" />
<rect x="128.12" y="513.50" width="7.43" height="2.50" fill="#F8EC2A" stroke="#8a8a40" stroke-width="0.5" />
<line x1="139.66" y1="497.00" x2="139.66" y2="494.50" stroke="#4a4a4a" stroke-width="0.6" />
<line x1="138.66" y1="494.50" x2="140.66" y2="494.50" stroke="#4a4a4a" stroke-width="0.5" />
<rect x="135.95" y="497.00" width="7.43" height="19.00" fill="#AC5A2A" stroke="#5a3a2a" stroke-width="0.5" />
<line x1="147.49" y1="504.60" x2="147.49" y2="502.50" stroke="#4a4a4a" stroke-width="0.6" />
<line x1="146.49" y1="502.50" x2="148.49" y2="502.50" stroke="#4a4a4a" stroke-width="0.5" />
<rect x="143.77" y="504.60" width="7.43" height="11.40" fill="#F280BA" stroke="#8a5a70" stroke-width="0.5" />
<rect x="90.11" y="516.70" width="5.20" height="0.90" fill="#e6dde2" stroke="none" stroke-width="0" />
<rect x="97.94" y="516.70" width="5.20" height="0.90" fill="#e6dde2" stroke="none" stroke-width="0" />
<rect x="105.76" y="516.70" width="5.20" height="0.90" fill="#e6dde2" stroke="none" stroke-width="0" />
<rect x="113.59" y="516.70" width="5.20" height="0.90" fill="#e6dde2" stroke="none" stroke-width="0" />
<rect x="121.41" y="516.70" width="5.20" height="0.90" fill="#e6dde2" stroke="none" stroke-width="0" />
<rect x="129.24" y="516.70" width="5.20" height="0.90" fill="#e6dde2" stroke="none" stroke-width="0" />
<rect x="137.06" y="516.70" width="5.20" height="0.90" fill="#e6dde2" stroke="none" stroke-width="0" />
<rect x="144.89" y="516.70" width="5.20" height="0.90" fill="#e6dde2" stroke="none" stroke-width="0" />
<rect x="87.80" y="525.90" width="64.60" height="7.10" fill="#d6d6d6" stroke="#8f8f8f" stroke-width="0.6" />
<rect x="87.80" y="533.00" width="64.60" height="62.50" fill="#ffffff" stroke="#a8a8a8" stroke-width="0.6" />
<line x1="88.30" y1="535.00" x2="151.90" y2="535.00" stroke="#efefef" stroke-width="0.5" />
<text x="86.30" y="536.40" font-size="3.3" fill="#333" font-weight="bold" font-style="normal" text-anchor="end" >3</text>
<line x1="86.60" y1="535.00" x2="87.80" y2="535.00" stroke="#777" stroke-width="0.4" />
<line x1="88.30" y1="555.60" x2="151.90" y2="555.60" stroke="#efefef" stroke-width="0.5" />
<text x="86.30" y="557.00" font-size="3.3" fill="#333" font-weight="bold" font-style="normal" text-anchor="end" >2</text>
<line x1="86.60" y1="555.60" x2="87.80" y2="555.60" stroke="#777" stroke-width="0.4" />
<line x1="88.30" y1="574.10" x2="151.90" y2="574.10" stroke="#efefef" stroke-width="0.5" />
<text x="86.30" y="575.50" font-size="3.3" fill="#333" font-weight="bold" font-style="normal" text-anchor="end" >1</text>
<line x1="86.60" y1="574.10" x2="87.80" y2="574.10" stroke="#777" stroke-width="0.4" />
<line x1="88.30" y1="593.10" x2="151.90" y2="593.10" stroke="#efefef" stroke-width="0.5" />
<text x="86.30" y="594.50" font-size="3.3" fill="#333" font-weight="bold" font-style="normal" text-anchor="end" >0</text>
<line x1="86.60" y1="593.10" x2="87.80" y2="593.10" stroke="#777" stroke-width="0.4" />
<text x="120.10" y="531.47" font-size="5.6" font-weight="bold" fill="#111" stroke="#111" stroke-width="0.12" text-anchor="middle">Fum<tspan font-size="4.20" dy="-0.6"> ***</tspan></text>
<line x1="92.71" y1="574.60" x2="92.71" y2="572.50" stroke="#4a4a4a" stroke-width="0.6" />
<line x1="91.71" y1="572.50" x2="93.71" y2="572.50" stroke="#4a4a4a" stroke-width="0.5" />
<rect x="89.00" y="574.60" width="7.43" height="18.50" fill="#EA1C24" stroke="#7a2022" stroke-width="0.5" />
<line x1="100.54" y1="584.80" x2="100.54" y2="583.80" stroke="#4a4a4a" stroke-width="0.6" />
<line x1="99.54" y1="583.80" x2="101.54" y2="583.80" stroke="#4a4a4a" stroke-width="0.5" />
<rect x="96.82" y="584.80" width="7.43" height="8.30" fill="#2F7DBE" stroke="#2a4560" stroke-width="0.5" />
<line x1="108.36" y1="577.20" x2="108.36" y2="572.50" stroke="#4a4a4a" stroke-width="0.6" />
<line x1="107.36" y1="572.50" x2="109.36" y2="572.50" stroke="#4a4a4a" stroke-width="0.5" />
<rect x="104.65" y="577.20" width="7.43" height="15.90" fill="#3DB44A" stroke="#35603a" stroke-width="0.5" />
<line x1="116.19" y1="539.20" x2="116.19" y2="536.50" stroke="#4a4a4a" stroke-width="0.6" />
<line x1="115.19" y1="536.50" x2="117.19" y2="536.50" stroke="#4a4a4a" stroke-width="0.5" />
<rect x="112.47" y="539.20" width="7.43" height="53.90" fill="#9A42A6" stroke="#553560" stroke-width="0.5" />
<line x1="124.01" y1="589.60" x2="124.01" y2="589.00" stroke="#4a4a4a" stroke-width="0.6" />
<line x1="123.01" y1="589.00" x2="125.01" y2="589.00" stroke="#4a4a4a" stroke-width="0.5" />
<rect x="120.30" y="589.60" width="7.43" height="3.50" fill="#F7801F" stroke="#8a5a30" stroke-width="0.5" />
<line x1="131.84" y1="590.70" x2="131.84" y2="590.20" stroke="#4a4a4a" stroke-width="0.6" />
<line x1="130.84" y1="590.20" x2="132.84" y2="590.20" stroke="#4a4a4a" stroke-width="0.5" />
<rect x="128.12" y="590.70" width="7.43" height="2.40" fill="#F8EC2A" stroke="#8a8a40" stroke-width="0.5" />
<line x1="139.66" y1="575.30" x2="139.66" y2="572.50" stroke="#4a4a4a" stroke-width="0.6" />
<line x1="138.66" y1="572.50" x2="140.66" y2="572.50" stroke="#4a4a4a" stroke-width="0.5" />
<rect x="135.95" y="575.30" width="7.43" height="17.80" fill="#AC5A2A" stroke="#5a3a2a" stroke-width="0.5" />
<line x1="147.49" y1="582.40" x2="147.49" y2="580.00" stroke="#4a4a4a" stroke-width="0.6" />
<line x1="146.49" y1="580.00" x2="148.49" y2="580.00" stroke="#4a4a4a" stroke-width="0.5" />
<rect x="143.77" y="582.40" width="7.43" height="10.70" fill="#F280BA" stroke="#8a5a70" stroke-width="0.5" />
<rect x="90.11" y="593.80" width="5.20" height="0.90" fill="#e6dde2" stroke="none" stroke-width="0" />
<rect x="97.94" y="593.80" width="5.20" height="0.90" fill="#e6dde2" stroke="none" stroke-width="0" />
<rect x="105.76" y="593.80" width="5.20" height="0.90" fill="#e6dde2" stroke="none" stroke-width="0" />
<rect x="113.59" y="593.80" width="5.20" height="0.90" fill="#e6dde2" stroke="none" stroke-width="0" />
<rect x="121.41" y="593.80" width="5.20" height="0.90" fill="#e6dde2" stroke="none" stroke-width="0" />
<rect x="129.24" y="593.80" width="5.20" height="0.90" fill="#e6dde2" stroke="none" stroke-width="0" />
<rect x="137.06" y="593.80" width="5.20" height="0.90" fill="#e6dde2" stroke="none" stroke-width="0" />
<rect x="144.89" y="593.80" width="5.20" height="0.90" fill="#e6dde2" stroke="none" stroke-width="0" />
<rect x="166.00" y="599.20" width="67.80" height="7.70" fill="#d6d6d6" stroke="#8f8f8f" stroke-width="0.6" />
<rect x="166.00" y="606.90" width="67.80" height="64.70" fill="#ffffff" stroke="#a8a8a8" stroke-width="0.6" />
<line x1="166.50" y1="615.00" x2="233.30" y2="615.00" stroke="#efefef" stroke-width="0.5" />
<text x="164.50" y="616.40" font-size="3.3" fill="#333" font-weight="bold" font-style="normal" text-anchor="end" >2.0</text>
<line x1="164.80" y1="615.00" x2="166.00" y2="615.00" stroke="#777" stroke-width="0.4" />
<line x1="166.50" y1="628.50" x2="233.30" y2="628.50" stroke="#efefef" stroke-width="0.5" />
<text x="164.50" y="629.90" font-size="3.3" fill="#333" font-weight="bold" font-style="normal" text-anchor="end" >1.5</text>
<line x1="164.80" y1="628.50" x2="166.00" y2="628.50" stroke="#777" stroke-width="0.4" />
<line x1="166.50" y1="642.30" x2="233.30" y2="642.30" stroke="#efefef" stroke-width="0.5" />
<text x="164.50" y="643.70" font-size="3.3" fill="#333" font-weight="bold" font-style="normal" text-anchor="end" >1.0</text>
<line x1="164.80" y1="642.30" x2="166.00" y2="642.30" stroke="#777" stroke-width="0.4" />
<line x1="166.50" y1="655.80" x2="233.30" y2="655.80" stroke="#efefef" stroke-width="0.5" />
<text x="164.50" y="657.20" font-size="3.3" fill="#333" font-weight="bold" font-style="normal" text-anchor="end" >0.5</text>
<line x1="164.80" y1="655.80" x2="166.00" y2="655.80" stroke="#777" stroke-width="0.4" />
<line x1="166.50" y1="669.20" x2="233.30" y2="669.20" stroke="#efefef" stroke-width="0.5" />
<text x="164.50" y="670.60" font-size="3.3" fill="#333" font-weight="bold" font-style="normal" text-anchor="end" >0.0</text>
<line x1="164.80" y1="669.20" x2="166.00" y2="669.20" stroke="#777" stroke-width="0.4" />
<text x="199.90" y="605.07" font-size="5.6" font-weight="bold" fill="#111" stroke="#111" stroke-width="0.12" text-anchor="middle">Succ<tspan font-size="4.20" dy="-0.6"> ***</tspan></text>
<line x1="171.11" y1="642.30" x2="171.11" y2="635.20" stroke="#4a4a4a" stroke-width="0.6" />
<line x1="170.11" y1="635.20" x2="172.11" y2="635.20" stroke="#4a4a4a" stroke-width="0.5" />
<rect x="167.21" y="642.30" width="7.81" height="26.90" fill="#EA1C24" stroke="#7a2022" stroke-width="0.5" />
<line x1="179.34" y1="644.20" x2="179.34" y2="643.00" stroke="#4a4a4a" stroke-width="0.6" />
<line x1="178.34" y1="643.00" x2="180.34" y2="643.00" stroke="#4a4a4a" stroke-width="0.5" />
<rect x="175.43" y="644.20" width="7.81" height="25.00" fill="#2F7DBE" stroke="#2a4560" stroke-width="0.5" />
<line x1="187.56" y1="632.30" x2="187.56" y2="624.20" stroke="#4a4a4a" stroke-width="0.6" />
<line x1="186.56" y1="624.20" x2="188.56" y2="624.20" stroke="#4a4a4a" stroke-width="0.5" />
<rect x="183.66" y="632.30" width="7.81" height="36.90" fill="#3DB44A" stroke="#35603a" stroke-width="0.5" />
<line x1="195.79" y1="614.00" x2="195.79" y2="609.20" stroke="#4a4a4a" stroke-width="0.6" />
<line x1="194.79" y1="609.20" x2="196.79" y2="609.20" stroke="#4a4a4a" stroke-width="0.5" />
<rect x="191.88" y="614.00" width="7.81" height="55.20" fill="#9A42A6" stroke="#553560" stroke-width="0.5" />
<line x1="204.01" y1="641.00" x2="204.01" y2="634.60" stroke="#4a4a4a" stroke-width="0.6" />
<line x1="203.01" y1="634.60" x2="205.01" y2="634.60" stroke="#4a4a4a" stroke-width="0.5" />
<rect x="200.11" y="641.00" width="7.81" height="28.20" fill="#F7801F" stroke="#8a5a30" stroke-width="0.5" />
<line x1="212.24" y1="643.50" x2="212.24" y2="642.00" stroke="#4a4a4a" stroke-width="0.6" />
<line x1="211.24" y1="642.00" x2="213.24" y2="642.00" stroke="#4a4a4a" stroke-width="0.5" />
<rect x="208.33" y="643.50" width="7.81" height="25.70" fill="#F8EC2A" stroke="#8a8a40" stroke-width="0.5" />
<line x1="220.46" y1="645.40" x2="220.46" y2="638.00" stroke="#4a4a4a" stroke-width="0.6" />
<line x1="219.46" y1="638.00" x2="221.46" y2="638.00" stroke="#4a4a4a" stroke-width="0.5" />
<rect x="216.56" y="645.40" width="7.81" height="23.80" fill="#AC5A2A" stroke="#5a3a2a" stroke-width="0.5" />
<line x1="228.69" y1="649.20" x2="228.69" y2="644.20" stroke="#4a4a4a" stroke-width="0.6" />
<line x1="227.69" y1="644.20" x2="229.69" y2="644.20" stroke="#4a4a4a" stroke-width="0.5" />
<rect x="224.78" y="649.20" width="7.81" height="20.00" fill="#F280BA" stroke="#8a5a70" stroke-width="0.5" />
<rect x="168.51" y="669.90" width="5.20" height="0.90" fill="#e6dde2" stroke="none" stroke-width="0" />
<rect x="176.74" y="669.90" width="5.20" height="0.90" fill="#e6dde2" stroke="none" stroke-width="0" />
<rect x="184.96" y="669.90" width="5.20" height="0.90" fill="#e6dde2" stroke="none" stroke-width="0" />
<rect x="193.19" y="669.90" width="5.20" height="0.90" fill="#e6dde2" stroke="none" stroke-width="0" />
<rect x="201.41" y="669.90" width="5.20" height="0.90" fill="#e6dde2" stroke="none" stroke-width="0" />
<rect x="209.64" y="669.90" width="5.20" height="0.90" fill="#e6dde2" stroke="none" stroke-width="0" />
<rect x="217.86" y="669.90" width="5.20" height="0.90" fill="#e6dde2" stroke="none" stroke-width="0" />
<rect x="226.09" y="669.90" width="5.20" height="0.90" fill="#e6dde2" stroke="none" stroke-width="0" />
<rect x="398.30" y="441.30" width="57.60" height="7.00" fill="#d6d6d6" stroke="#8f8f8f" stroke-width="0.6" />
<rect x="398.30" y="448.30" width="57.60" height="54.90" fill="#ffffff" stroke="#a8a8a8" stroke-width="0.6" />
<line x1="398.80" y1="457.00" x2="455.40" y2="457.00" stroke="#efefef" stroke-width="0.5" />
<text x="396.80" y="458.40" font-size="3.0" fill="#333" font-weight="bold" font-style="normal" text-anchor="end" >3</text>
<line x1="397.10" y1="457.00" x2="398.30" y2="457.00" stroke="#777" stroke-width="0.4" />
<line x1="398.80" y1="471.70" x2="455.40" y2="471.70" stroke="#efefef" stroke-width="0.5" />
<text x="396.80" y="473.10" font-size="3.0" fill="#333" font-weight="bold" font-style="normal" text-anchor="end" >2</text>
<line x1="397.10" y1="471.70" x2="398.30" y2="471.70" stroke="#777" stroke-width="0.4" />
<line x1="398.80" y1="486.50" x2="455.40" y2="486.50" stroke="#efefef" stroke-width="0.5" />
<text x="396.80" y="487.90" font-size="3.0" fill="#333" font-weight="bold" font-style="normal" text-anchor="end" >1</text>
<line x1="397.10" y1="486.50" x2="398.30" y2="486.50" stroke="#777" stroke-width="0.4" />
<line x1="398.80" y1="500.80" x2="455.40" y2="500.80" stroke="#efefef" stroke-width="0.5" />
<text x="396.80" y="502.20" font-size="3.0" fill="#333" font-weight="bold" font-style="normal" text-anchor="end" >0</text>
<line x1="397.10" y1="500.80" x2="398.30" y2="500.80" stroke="#777" stroke-width="0.4" />
<text x="427.10" y="446.53" font-size="4.8" font-weight="bold" fill="#111" stroke="#111" stroke-width="0.12" text-anchor="middle">Gln<tspan font-size="3.60" dy="-0.6"> ***</tspan></text>
<line x1="402.77" y1="486.50" x2="402.77" y2="485.80" stroke="#4a4a4a" stroke-width="0.6" />
<line x1="401.77" y1="485.80" x2="403.77" y2="485.80" stroke="#4a4a4a" stroke-width="0.5" />
<rect x="399.47" y="486.50" width="6.60" height="14.30" fill="#EA1C24" stroke="#7a2022" stroke-width="0.5" />
<line x1="409.72" y1="498.70" x2="409.72" y2="498.20" stroke="#4a4a4a" stroke-width="0.6" />
<line x1="408.72" y1="498.20" x2="410.72" y2="498.20" stroke="#4a4a4a" stroke-width="0.5" />
<rect x="406.42" y="498.70" width="6.60" height="2.10" fill="#2F7DBE" stroke="#2a4560" stroke-width="0.5" />
<line x1="416.67" y1="496.00" x2="416.67" y2="495.40" stroke="#4a4a4a" stroke-width="0.6" />
<line x1="415.67" y1="495.40" x2="417.67" y2="495.40" stroke="#4a4a4a" stroke-width="0.5" />
<rect x="413.37" y="496.00" width="6.60" height="4.80" fill="#3DB44A" stroke="#35603a" stroke-width="0.5" />
<line x1="423.62" y1="453.40" x2="423.62" y2="450.50" stroke="#4a4a4a" stroke-width="0.6" />
<line x1="422.62" y1="450.50" x2="424.62" y2="450.50" stroke="#4a4a4a" stroke-width="0.5" />
<rect x="420.32" y="453.40" width="6.60" height="47.40" fill="#9A42A6" stroke="#553560" stroke-width="0.5" />
<line x1="430.57" y1="496.50" x2="430.57" y2="496.00" stroke="#4a4a4a" stroke-width="0.6" />
<line x1="429.57" y1="496.00" x2="431.57" y2="496.00" stroke="#4a4a4a" stroke-width="0.5" />
<rect x="427.27" y="496.50" width="6.60" height="4.30" fill="#F7801F" stroke="#8a5a30" stroke-width="0.5" />
<rect x="434.22" y="500.40" width="6.60" height="0.40" fill="#F8EC2A" stroke="#8a8a40" stroke-width="0.5" />
<line x1="444.47" y1="486.50" x2="444.47" y2="485.60" stroke="#4a4a4a" stroke-width="0.6" />
<line x1="443.47" y1="485.60" x2="445.47" y2="485.60" stroke="#4a4a4a" stroke-width="0.5" />
<rect x="441.17" y="486.50" width="6.60" height="14.30" fill="#AC5A2A" stroke="#5a3a2a" stroke-width="0.5" />
<line x1="451.42" y1="499.50" x2="451.42" y2="499.00" stroke="#4a4a4a" stroke-width="0.6" />
<line x1="450.42" y1="499.00" x2="452.42" y2="499.00" stroke="#4a4a4a" stroke-width="0.5" />
<rect x="448.12" y="499.50" width="6.60" height="1.30" fill="#F280BA" stroke="#8a5a70" stroke-width="0.5" />
<rect x="400.18" y="501.50" width="5.20" height="0.90" fill="#e6dde2" stroke="none" stroke-width="0" />
<rect x="407.12" y="501.50" width="5.20" height="0.90" fill="#e6dde2" stroke="none" stroke-width="0" />
<rect x="414.07" y="501.50" width="5.20" height="0.90" fill="#e6dde2" stroke="none" stroke-width="0" />
<rect x="421.02" y="501.50" width="5.20" height="0.90" fill="#e6dde2" stroke="none" stroke-width="0" />
<rect x="427.98" y="501.50" width="5.20" height="0.90" fill="#e6dde2" stroke="none" stroke-width="0" />
<rect x="434.93" y="501.50" width="5.20" height="0.90" fill="#e6dde2" stroke="none" stroke-width="0" />
<rect x="441.88" y="501.50" width="5.20" height="0.90" fill="#e6dde2" stroke="none" stroke-width="0" />
<rect x="448.82" y="501.50" width="5.20" height="0.90" fill="#e6dde2" stroke="none" stroke-width="0" />
<rect x="462.40" y="441.30" width="57.10" height="7.20" fill="#d6d6d6" stroke="#8f8f8f" stroke-width="0.6" />
<rect x="462.40" y="448.50" width="57.10" height="54.90" fill="#ffffff" stroke="#a8a8a8" stroke-width="0.6" />
<line x1="462.90" y1="450.90" x2="519.00" y2="450.90" stroke="#efefef" stroke-width="0.5" />
<text x="460.90" y="452.30" font-size="3.0" fill="#333" font-weight="bold" font-style="normal" text-anchor="end" >2.5</text>
<line x1="461.20" y1="450.90" x2="462.40" y2="450.90" stroke="#777" stroke-width="0.4" />
<line x1="462.90" y1="461.00" x2="519.00" y2="461.00" stroke="#efefef" stroke-width="0.5" />
<text x="460.90" y="462.40" font-size="3.0" fill="#333" font-weight="bold" font-style="normal" text-anchor="end" >2.0</text>
<line x1="461.20" y1="461.00" x2="462.40" y2="461.00" stroke="#777" stroke-width="0.4" />
<line x1="462.90" y1="471.00" x2="519.00" y2="471.00" stroke="#efefef" stroke-width="0.5" />
<text x="460.90" y="472.40" font-size="3.0" fill="#333" font-weight="bold" font-style="normal" text-anchor="end" >1.5</text>
<line x1="461.20" y1="471.00" x2="462.40" y2="471.00" stroke="#777" stroke-width="0.4" />
<line x1="462.90" y1="481.20" x2="519.00" y2="481.20" stroke="#efefef" stroke-width="0.5" />
<text x="460.90" y="482.60" font-size="3.0" fill="#333" font-weight="bold" font-style="normal" text-anchor="end" >1.0</text>
<line x1="461.20" y1="481.20" x2="462.40" y2="481.20" stroke="#777" stroke-width="0.4" />
<line x1="462.90" y1="491.10" x2="519.00" y2="491.10" stroke="#efefef" stroke-width="0.5" />
<text x="460.90" y="492.50" font-size="3.0" fill="#333" font-weight="bold" font-style="normal" text-anchor="end" >0.5</text>
<line x1="461.20" y1="491.10" x2="462.40" y2="491.10" stroke="#777" stroke-width="0.4" />
<line x1="462.90" y1="501.00" x2="519.00" y2="501.00" stroke="#efefef" stroke-width="0.5" />
<text x="460.90" y="502.40" font-size="3.0" fill="#333" font-weight="bold" font-style="normal" text-anchor="end" >0.0</text>
<line x1="461.20" y1="501.00" x2="462.40" y2="501.00" stroke="#777" stroke-width="0.4" />
<text x="490.95" y="446.63" font-size="4.8" font-weight="bold" fill="#111" stroke="#111" stroke-width="0.12" text-anchor="middle">Glu<tspan font-size="3.60" dy="-0.6"> ***</tspan></text>
<line x1="466.84" y1="481.20" x2="466.84" y2="480.50" stroke="#4a4a4a" stroke-width="0.6" />
<line x1="465.84" y1="480.50" x2="467.84" y2="480.50" stroke="#4a4a4a" stroke-width="0.5" />
<rect x="463.57" y="481.20" width="6.54" height="19.80" fill="#EA1C24" stroke="#7a2022" stroke-width="0.5" />
<line x1="473.73" y1="495.20" x2="473.73" y2="494.60" stroke="#4a4a4a" stroke-width="0.6" />
<line x1="472.73" y1="494.60" x2="474.73" y2="494.60" stroke="#4a4a4a" stroke-width="0.5" />
<rect x="470.46" y="495.20" width="6.54" height="5.80" fill="#2F7DBE" stroke="#2a4560" stroke-width="0.5" />
<line x1="480.62" y1="486.10" x2="480.62" y2="485.50" stroke="#4a4a4a" stroke-width="0.6" />
<line x1="479.62" y1="485.50" x2="481.62" y2="485.50" stroke="#4a4a4a" stroke-width="0.5" />
<rect x="477.35" y="486.10" width="6.54" height="14.90" fill="#3DB44A" stroke="#35603a" stroke-width="0.5" />
<line x1="487.51" y1="453.20" x2="487.51" y2="450.50" stroke="#4a4a4a" stroke-width="0.6" />
<line x1="486.51" y1="450.50" x2="488.51" y2="450.50" stroke="#4a4a4a" stroke-width="0.5" />
<rect x="484.23" y="453.20" width="6.54" height="47.80" fill="#9A42A6" stroke="#553560" stroke-width="0.5" />
<line x1="494.39" y1="499.60" x2="494.39" y2="499.20" stroke="#4a4a4a" stroke-width="0.6" />
<line x1="493.39" y1="499.20" x2="495.39" y2="499.20" stroke="#4a4a4a" stroke-width="0.5" />
<rect x="491.12" y="499.60" width="6.54" height="1.40" fill="#F7801F" stroke="#8a5a30" stroke-width="0.5" />
<rect x="498.01" y="500.60" width="6.54" height="0.40" fill="#F8EC2A" stroke="#8a8a40" stroke-width="0.5" />
<line x1="508.17" y1="482.40" x2="508.17" y2="481.00" stroke="#4a4a4a" stroke-width="0.6" />
<line x1="507.17" y1="481.00" x2="509.17" y2="481.00" stroke="#4a4a4a" stroke-width="0.5" />
<rect x="504.90" y="482.40" width="6.54" height="18.60" fill="#AC5A2A" stroke="#5a3a2a" stroke-width="0.5" />
<line x1="515.06" y1="494.20" x2="515.06" y2="493.60" stroke="#4a4a4a" stroke-width="0.6" />
<line x1="514.06" y1="493.60" x2="516.06" y2="493.60" stroke="#4a4a4a" stroke-width="0.5" />
<rect x="511.78" y="494.20" width="6.54" height="6.80" fill="#F280BA" stroke="#8a5a70" stroke-width="0.5" />
<rect x="464.24" y="501.70" width="5.20" height="0.90" fill="#e6dde2" stroke="none" stroke-width="0" />
<rect x="471.13" y="501.70" width="5.20" height="0.90" fill="#e6dde2" stroke="none" stroke-width="0" />
<rect x="478.02" y="501.70" width="5.20" height="0.90" fill="#e6dde2" stroke="none" stroke-width="0" />
<rect x="484.91" y="501.70" width="5.20" height="0.90" fill="#e6dde2" stroke="none" stroke-width="0" />
<rect x="491.79" y="501.70" width="5.20" height="0.90" fill="#e6dde2" stroke="none" stroke-width="0" />
<rect x="498.68" y="501.70" width="5.20" height="0.90" fill="#e6dde2" stroke="none" stroke-width="0" />
<rect x="505.57" y="501.70" width="5.20" height="0.90" fill="#e6dde2" stroke="none" stroke-width="0" />
<rect x="512.46" y="501.70" width="5.20" height="0.90" fill="#e6dde2" stroke="none" stroke-width="0" />
<rect x="379.20" y="516.00" width="66.80" height="7.70" fill="#d6d6d6" stroke="#8f8f8f" stroke-width="0.6" />
<rect x="379.20" y="523.70" width="66.80" height="63.50" fill="#ffffff" stroke="#a8a8a8" stroke-width="0.6" />
<line x1="379.70" y1="528.50" x2="445.50" y2="528.50" stroke="#efefef" stroke-width="0.5" />
<text x="377.70" y="529.90" font-size="3.3" fill="#333" font-weight="bold" font-style="normal" text-anchor="end" >3</text>
<line x1="378.00" y1="528.50" x2="379.20" y2="528.50" stroke="#777" stroke-width="0.4" />
<line x1="379.70" y1="547.30" x2="445.50" y2="547.30" stroke="#efefef" stroke-width="0.5" />
<text x="377.70" y="548.70" font-size="3.3" fill="#333" font-weight="bold" font-style="normal" text-anchor="end" >2</text>
<line x1="378.00" y1="547.30" x2="379.20" y2="547.30" stroke="#777" stroke-width="0.4" />
<line x1="379.70" y1="566.50" x2="445.50" y2="566.50" stroke="#efefef" stroke-width="0.5" />
<text x="377.70" y="567.90" font-size="3.3" fill="#333" font-weight="bold" font-style="normal" text-anchor="end" >1</text>
<line x1="378.00" y1="566.50" x2="379.20" y2="566.50" stroke="#777" stroke-width="0.4" />
<line x1="379.70" y1="584.80" x2="445.50" y2="584.80" stroke="#efefef" stroke-width="0.5" />
<text x="377.70" y="586.20" font-size="3.3" fill="#333" font-weight="bold" font-style="normal" text-anchor="end" >0</text>
<line x1="378.00" y1="584.80" x2="379.20" y2="584.80" stroke="#777" stroke-width="0.4" />
<text x="412.60" y="521.87" font-size="5.6" font-weight="bold" fill="#111" stroke="#111" stroke-width="0.12" text-anchor="middle">a−KG<tspan font-size="4.20" dy="-0.6"> ***</tspan></text>
<line x1="384.25" y1="566.20" x2="384.25" y2="565.50" stroke="#4a4a4a" stroke-width="0.6" />
<line x1="383.25" y1="565.50" x2="385.25" y2="565.50" stroke="#4a4a4a" stroke-width="0.5" />
<rect x="380.40" y="566.20" width="7.69" height="18.60" fill="#EA1C24" stroke="#7a2022" stroke-width="0.5" />
<line x1="392.35" y1="577.70" x2="392.35" y2="577.00" stroke="#4a4a4a" stroke-width="0.6" />
<line x1="391.35" y1="577.00" x2="393.35" y2="577.00" stroke="#4a4a4a" stroke-width="0.5" />
<rect x="388.50" y="577.70" width="7.69" height="7.10" fill="#2F7DBE" stroke="#2a4560" stroke-width="0.5" />
<line x1="400.45" y1="571.90" x2="400.45" y2="566.20" stroke="#4a4a4a" stroke-width="0.6" />
<line x1="399.45" y1="566.20" x2="401.45" y2="566.20" stroke="#4a4a4a" stroke-width="0.5" />
<rect x="396.60" y="571.90" width="7.69" height="12.90" fill="#3DB44A" stroke="#35603a" stroke-width="0.5" />
<line x1="408.55" y1="529.00" x2="408.55" y2="525.80" stroke="#4a4a4a" stroke-width="0.6" />
<line x1="407.55" y1="525.80" x2="409.55" y2="525.80" stroke="#4a4a4a" stroke-width="0.5" />
<rect x="404.70" y="529.00" width="7.69" height="55.80" fill="#9A42A6" stroke="#553560" stroke-width="0.5" />
<line x1="416.65" y1="580.00" x2="416.65" y2="579.40" stroke="#4a4a4a" stroke-width="0.6" />
<line x1="415.65" y1="579.40" x2="417.65" y2="579.40" stroke="#4a4a4a" stroke-width="0.5" />
<rect x="412.80" y="580.00" width="7.69" height="4.80" fill="#F7801F" stroke="#8a5a30" stroke-width="0.5" />
<line x1="424.75" y1="582.30" x2="424.75" y2="581.80" stroke="#4a4a4a" stroke-width="0.6" />
<line x1="423.75" y1="581.80" x2="425.75" y2="581.80" stroke="#4a4a4a" stroke-width="0.5" />
<rect x="420.90" y="582.30" width="7.69" height="2.50" fill="#F8EC2A" stroke="#8a8a40" stroke-width="0.5" />
<line x1="432.85" y1="569.40" x2="432.85" y2="568.60" stroke="#4a4a4a" stroke-width="0.6" />
<line x1="431.85" y1="568.60" x2="433.85" y2="568.60" stroke="#4a4a4a" stroke-width="0.5" />
<rect x="429.00" y="569.40" width="7.69" height="15.40" fill="#AC5A2A" stroke="#5a3a2a" stroke-width="0.5" />
<line x1="440.95" y1="573.80" x2="440.95" y2="573.00" stroke="#4a4a4a" stroke-width="0.6" />
<line x1="439.95" y1="573.00" x2="441.95" y2="573.00" stroke="#4a4a4a" stroke-width="0.5" />
<rect x="437.10" y="573.80" width="7.69" height="11.00" fill="#F280BA" stroke="#8a5a70" stroke-width="0.5" />
<rect x="381.65" y="585.50" width="5.20" height="0.90" fill="#e6dde2" stroke="none" stroke-width="0" />
<rect x="389.75" y="585.50" width="5.20" height="0.90" fill="#e6dde2" stroke="none" stroke-width="0" />
<rect x="397.85" y="585.50" width="5.20" height="0.90" fill="#e6dde2" stroke="none" stroke-width="0" />
<rect x="405.95" y="585.50" width="5.20" height="0.90" fill="#e6dde2" stroke="none" stroke-width="0" />
<rect x="414.05" y="585.50" width="5.20" height="0.90" fill="#e6dde2" stroke="none" stroke-width="0" />
<rect x="422.15" y="585.50" width="5.20" height="0.90" fill="#e6dde2" stroke="none" stroke-width="0" />
<rect x="430.25" y="585.50" width="5.20" height="0.90" fill="#e6dde2" stroke="none" stroke-width="0" />
<rect x="438.35" y="585.50" width="5.20" height="0.90" fill="#e6dde2" stroke="none" stroke-width="0" />
<text x="0.60" y="10.60" font-size="13.4" fill="#000" font-weight="bold" font-style="normal" text-anchor="start" >A</text>
<text x="1.20" y="458.70" font-size="13.4" fill="#000" font-weight="bold" font-style="normal" text-anchor="start" >B</text>
<rect x="12.00" y="57.50" width="83.60" height="28.20" fill="#fce3a3" stroke="none" stroke-width="0" />
<text x="16.30" y="69.60" font-size="8.9" fill="#221e30" font-weight="bold" font-style="italic" text-anchor="start" stroke="#221e30" stroke-width="0.3">Glycolysis</text>
<text x="16.30" y="81.00" font-size="8.9" fill="#221e30" font-weight="bold" font-style="italic" text-anchor="start" stroke="#221e30" stroke-width="0.3">pathway</text>
<rect x="203.70" y="15.30" width="92.10" height="24.30" fill="#dde4f2" stroke="none" stroke-width="0" />
<text x="249.75" y="24.77" font-size="8.8" fill="#1d2150" font-weight="bold" font-style="italic" text-anchor="middle" stroke="#1d2150" stroke-width="0.3">Pentose phosphate</text>
<text x="249.75" y="36.77" font-size="8.8" fill="#1d2150" font-weight="bold" font-style="italic" text-anchor="middle" stroke="#1d2150" stroke-width="0.3">pathway</text>
<rect x="278.50" y="73.50" width="54.50" height="23.50" fill="#dde4f2" stroke="none" stroke-width="0" />
<text x="305.75" y="82.97" font-size="8.8" fill="#1d2150" font-weight="bold" font-style="italic" text-anchor="middle" stroke="#1d2150" stroke-width="0.3">Fatty acid</text>
<text x="305.75" y="93.97" font-size="8.8" fill="#1d2150" font-weight="bold" font-style="italic" text-anchor="middle" stroke="#1d2150" stroke-width="0.3">synthesis</text>
<rect x="207.00" y="192.50" width="56.00" height="24.30" fill="#dde4f2" stroke="none" stroke-width="0" />
<text x="235.00" y="203.43" font-size="7.3" fill="#1d2150" font-weight="bold" font-style="italic" text-anchor="middle" stroke="#1d2150" stroke-width="0.3">Serine</text>
<text x="235.00" y="213.93" font-size="7.3" fill="#1d2150" font-weight="bold" font-style="italic" text-anchor="middle" stroke="#1d2150" stroke-width="0.3">biosynthesis</text>
<rect x="206.30" y="258.00" width="43.00" height="13.80" fill="#dde4f2" stroke="none" stroke-width="0" />
<text x="227.80" y="267.73" font-size="7.3" fill="#1d2150" font-weight="bold" font-style="italic" text-anchor="middle" stroke="#1d2150" stroke-width="0.3">TCA Cycle</text>
<text x="191.3" y="151.9" font-size="7.4" fill="#c22a36" stroke="#c22a36" stroke-width="0.25" font-weight="bold" font-style="italic">**NAD<tspan font-size="4.8" dy="-2.6">+</tspan><tspan dy="2.6"> dependent step</tspan></text>
<rect x="108.00" y="115.40" width="82.40" height="60.60" fill="none" stroke="#c05656" stroke-width="0.7" />
<line x1="185.70" y1="26.90" x2="193.80" y2="26.90" stroke="#b06070" stroke-width="0.9" />
<path d="M196.30,26.90 L193.10,28.70 L193.10,25.10 Z" fill="#8e3040" stroke="none"/>
<line x1="260.00" y1="87.00" x2="268.10" y2="87.00" stroke="#b06070" stroke-width="0.9" />
<path d="M270.60,87.00 L267.40,88.80 L267.40,85.20 Z" fill="#8e3040" stroke="none"/>
<line x1="190.00" y1="205.80" x2="198.50" y2="205.80" stroke="#b06070" stroke-width="0.9" />
<path d="M201.00,205.80 L197.80,207.60 L197.80,204.00 Z" fill="#8e3040" stroke="none"/>
<line x1="190.00" y1="265.80" x2="198.30" y2="265.80" stroke="#b06070" stroke-width="0.9" />
<path d="M200.80,265.80 L197.60,267.60 L197.60,264.00 Z" fill="#8e3040" stroke="none"/>
<text x="389.40" y="5.90" font-size="8.0" fill="#111" font-weight="bold" font-style="normal" text-anchor="start" stroke="#111" stroke-width="0.25">Conditions</text>
<rect x="389.60" y="8.80" width="11.10" height="9.47" fill="#EA1C24" stroke="#2a2a2a" stroke-width="0.9" />
<text x="402.30" y="16.30" font-size="8.3" fill="#111" font-weight="bold" font-style="normal" text-anchor="start" stroke="#111" stroke-width="0.3">827A+Q</text>
<rect x="389.60" y="18.87" width="11.10" height="9.47" fill="#2F7DBE" stroke="#2a2a2a" stroke-width="0.9" />
<text x="402.30" y="26.37" font-size="8.3" fill="#111" font-weight="bold" font-style="normal" text-anchor="start" stroke="#111" stroke-width="0.3">827A−Q</text>
<rect x="389.60" y="28.94" width="11.10" height="9.47" fill="#3DB44A" stroke="#2a2a2a" stroke-width="0.9" />
<text x="402.30" y="36.44" font-size="8.3" fill="#111" font-weight="bold" font-style="normal" text-anchor="start" stroke="#111" stroke-width="0.3">827+Q</text>
<rect x="389.60" y="39.01" width="11.10" height="9.47" fill="#9A42A6" stroke="#2a2a2a" stroke-width="0.9" />
<text x="402.30" y="46.51" font-size="8.3" fill="#111" font-weight="bold" font-style="normal" text-anchor="start" stroke="#111" stroke-width="0.3">827−Q</text>
<rect x="389.60" y="49.08" width="11.10" height="9.47" fill="#F7801F" stroke="#2a2a2a" stroke-width="0.9" />
<text x="402.30" y="56.58" font-size="8.3" fill="#111" font-weight="bold" font-style="normal" text-anchor="start" stroke="#111" stroke-width="0.3">604+Q</text>
<rect x="389.60" y="59.15" width="11.10" height="9.47" fill="#F8EC2A" stroke="#2a2a2a" stroke-width="0.9" />
<text x="402.30" y="66.65" font-size="8.3" fill="#111" font-weight="bold" font-style="normal" text-anchor="start" stroke="#111" stroke-width="0.3">604−Q</text>
<rect x="389.60" y="69.22" width="11.10" height="9.47" fill="#AC5A2A" stroke="#2a2a2a" stroke-width="0.9" />
<text x="402.30" y="76.72" font-size="8.3" fill="#111" font-weight="bold" font-style="normal" text-anchor="start" stroke="#111" stroke-width="0.3">604−48+Q</text>
<rect x="389.60" y="79.29" width="11.10" height="9.47" fill="#F280BA" stroke="#2a2a2a" stroke-width="0.9" />
<text x="402.30" y="86.79" font-size="8.3" fill="#111" font-weight="bold" font-style="normal" text-anchor="start" stroke="#111" stroke-width="0.3">604−48−Q</text>
<rect x="443.80" y="7.80" width="32.00" height="14.70" fill="#dde3f1" stroke="none" stroke-width="0" />
<text x="447.60" y="17.85" font-size="7.4" fill="#191c3a" font-weight="bold" font-style="italic" text-anchor="start" stroke="#191c3a" stroke-width="0.25">ASNS-Mid</text>
<rect x="443.80" y="29.80" width="27.70" height="14.30" fill="#e3eddd" stroke="none" stroke-width="0" />
<text x="447.60" y="39.65" font-size="7.4" fill="#a83030" font-weight="bold" font-style="italic" text-anchor="start" stroke="#a83030" stroke-width="0.25">ASNS-Hi</text>
<rect x="443.80" y="49.30" width="27.70" height="14.70" fill="#f9e2d6" stroke="none" stroke-width="0" />
<text x="447.60" y="59.35" font-size="7.4" fill="#a83030" font-weight="bold" font-style="italic" text-anchor="start" stroke="#a83030" stroke-width="0.25">ASNS-Lo</text>
<rect x="443.80" y="71.00" width="32.00" height="14.60" fill="#dde3f1" stroke="none" stroke-width="0" />
<text x="447.60" y="81.00" font-size="7.4" fill="#191c3a" font-weight="bold" font-style="italic" text-anchor="start" stroke="#191c3a" stroke-width="0.25">ASNS-Mid</text>
<path d="M483.8,14.7 L485.7,14.7 L485.7,78.7 L483.8,78.7" stroke="#a8a8b4" stroke-width="0.7" fill="none" />
<path d="M478.8,35.1 L491.8,35.1 L491.8,55.4 L479.3,55.4" stroke="#9a4848" stroke-width="0.7" fill="none" />
<rect x="313.90" y="114.50" width="64.60" height="20.90" fill="#f3f3f3" stroke="none" stroke-width="0" />
<rect x="378.50" y="114.50" width="67.90" height="10.30" fill="#dcebd4" stroke="none" stroke-width="0" />
<rect x="446.40" y="114.50" width="66.90" height="10.30" fill="#f8c9a9" stroke="none" stroke-width="0" />
<rect x="328.50" y="124.80" width="50.00" height="10.60" fill="#dbe5f3" stroke="none" stroke-width="0" />
<rect x="378.50" y="124.80" width="134.80" height="10.60" fill="#b3c5e6" stroke="none" stroke-width="0" />
<text x="412.45" y="122.50" font-size="7.8" fill="#c0342c" font-weight="normal" font-style="normal" text-anchor="middle" stroke="#c0342c" stroke-width="0.25">ASNS-Hi</text>
<text x="479.85" y="122.50" font-size="7.8" fill="#c0342c" font-weight="normal" font-style="normal" text-anchor="middle" stroke="#c0342c" stroke-width="0.25">ASNS-Lo</text>
<text x="353.50" y="132.80" font-size="7.6" fill="#1f2d5c" font-weight="bold" font-style="normal" text-anchor="middle" >Gln:</text>
<text x="395.40" y="132.90" font-size="8.0" fill="#111" font-weight="bold" font-style="normal" text-anchor="middle" >+</text>
<text x="429.70" y="132.90" font-size="8.0" fill="#111" font-weight="bold" font-style="normal" text-anchor="middle" >−</text>
<text x="463.20" y="132.90" font-size="8.0" fill="#111" font-weight="bold" font-style="normal" text-anchor="middle" >+</text>
<text x="496.90" y="132.90" font-size="8.0" fill="#111" font-weight="bold" font-style="normal" text-anchor="middle" >−</text>
<rect x="313.90" y="135.40" width="14.60" height="208.40" fill="#deebf6" stroke="none" stroke-width="0" />
<rect x="328.50" y="135.40" width="50.00" height="114.40" fill="#d3d3d3" stroke="none" stroke-width="0" />
<rect x="378.50" y="135.40" width="134.80" height="114.40" fill="#f1f1f1" stroke="none" stroke-width="0" />
<rect x="378.50" y="218.60" width="134.80" height="20.80" fill="#fdeec6" stroke="none" stroke-width="0" />
<rect x="328.50" y="249.80" width="50.00" height="10.44" fill="#d3d9e7" stroke="none" stroke-width="0" />
<rect x="328.50" y="260.19" width="50.00" height="10.44" fill="#d3d9e7" stroke="none" stroke-width="0" />
<rect x="328.50" y="270.58" width="50.00" height="10.44" fill="#d3d9e7" stroke="none" stroke-width="0" />
<rect x="328.50" y="280.97" width="50.00" height="10.44" fill="#d3d9e7" stroke="none" stroke-width="0" />
<rect x="328.50" y="291.36" width="50.00" height="10.44" fill="#d3d9e7" stroke="none" stroke-width="0" />
<rect x="328.50" y="301.74" width="50.00" height="10.44" fill="#f8dccb" stroke="none" stroke-width="0" />
<rect x="328.50" y="312.13" width="50.00" height="10.44" fill="#f8dccb" stroke="none" stroke-width="0" />
<rect x="328.50" y="322.52" width="50.00" height="10.44" fill="#f8dccb" stroke="none" stroke-width="0" />
<rect x="328.50" y="332.91" width="50.00" height="10.44" fill="#f8dccb" stroke="none" stroke-width="0" />
<rect x="378.50" y="249.80" width="33.80" height="93.50" fill="#ffffff" stroke="none" stroke-width="0" />
<rect x="412.30" y="249.80" width="34.10" height="93.50" fill="#efefef" stroke="none" stroke-width="0" />
<rect x="446.40" y="249.80" width="33.60" height="93.50" fill="#ffffff" stroke="none" stroke-width="0" />
<rect x="480.00" y="249.80" width="33.30" height="93.50" fill="#efefef" stroke="none" stroke-width="0" />
<text x="353.50" y="143.30" font-size="7.6" fill="#2e2e38" font-weight="normal" font-style="normal" text-anchor="middle" stroke="#2e2e38" stroke-width="0.1">G6P</text>
<text x="395.40" y="143.20" font-size="7.4" fill="#1a1a1a" font-weight="normal" font-style="normal" text-anchor="middle" stroke="#1a1a1a" stroke-width="0.25">+</text>
<line x1="429.70" y1="145.00" x2="429.70" y2="139.20" stroke="#2a8a62" stroke-width="0.75" />
<path d="M429.70,137.60 L430.80,139.90 L428.60,139.90 Z" fill="#2a8a62" stroke="none"/>
<rect x="461.40" y="140.05" width="3.60" height="1.10" fill="#222" stroke="none" stroke-width="0" />
<line x1="496.90" y1="137.60" x2="496.90" y2="143.40" stroke="#bb3030" stroke-width="0.75" />
<path d="M496.90,145.00 L495.80,142.70 L498.00,142.70 Z" fill="#bb3030" stroke="none"/>
<text x="353.50" y="153.70" font-size="7.6" fill="#2e2e38" font-weight="normal" font-style="normal" text-anchor="middle" stroke="#2e2e38" stroke-width="0.1">F6P</text>
<text x="395.40" y="153.60" font-size="7.4" fill="#1a1a1a" font-weight="normal" font-style="normal" text-anchor="middle" stroke="#1a1a1a" stroke-width="0.25">+</text>
<line x1="429.70" y1="155.40" x2="429.70" y2="149.60" stroke="#2a8a62" stroke-width="0.75" />
<path d="M429.70,148.00 L430.80,150.30 L428.60,150.30 Z" fill="#2a8a62" stroke="none"/>
<rect x="461.40" y="150.45" width="3.60" height="1.10" fill="#222" stroke="none" stroke-width="0" />
<line x1="496.90" y1="148.00" x2="496.90" y2="153.80" stroke="#bb3030" stroke-width="0.75" />
<path d="M496.90,155.40 L495.80,153.10 L498.00,153.10 Z" fill="#bb3030" stroke="none"/>
<text x="353.50" y="164.10" font-size="7.6" fill="#2e2e38" font-weight="normal" font-style="normal" text-anchor="middle" stroke="#2e2e38" stroke-width="0.1">F1,6BP</text>
<text x="395.40" y="164.00" font-size="7.4" fill="#1a1a1a" font-weight="normal" font-style="normal" text-anchor="middle" stroke="#1a1a1a" stroke-width="0.25">++</text>
<line x1="429.70" y1="165.80" x2="429.70" y2="160.00" stroke="#2a8a62" stroke-width="0.75" />
<path d="M429.70,158.40 L430.80,160.70 L428.60,160.70 Z" fill="#2a8a62" stroke="none"/>
<rect x="461.40" y="160.85" width="3.60" height="1.10" fill="#222" stroke="none" stroke-width="0" />
<line x1="496.90" y1="158.40" x2="496.90" y2="164.20" stroke="#bb3030" stroke-width="0.75" />
<path d="M496.90,165.80 L495.80,163.50 L498.00,163.50 Z" fill="#bb3030" stroke="none"/>
<text x="353.50" y="174.50" font-size="7.6" fill="#2e2e38" font-weight="normal" font-style="normal" text-anchor="middle" stroke="#2e2e38" stroke-width="0.1">DHAP</text>
<text x="395.40" y="174.40" font-size="7.4" fill="#1a1a1a" font-weight="normal" font-style="normal" text-anchor="middle" stroke="#1a1a1a" stroke-width="0.25">+++</text>
<line x1="429.70" y1="176.20" x2="429.70" y2="170.40" stroke="#2a8a62" stroke-width="0.75" />
<path d="M429.70,168.80 L430.80,171.10 L428.60,171.10 Z" fill="#2a8a62" stroke="none"/>
<rect x="461.40" y="171.25" width="3.60" height="1.10" fill="#222" stroke="none" stroke-width="0" />
<line x1="496.90" y1="168.80" x2="496.90" y2="174.60" stroke="#bb3030" stroke-width="0.75" />
<path d="M496.90,176.20 L495.80,173.90 L498.00,173.90 Z" fill="#bb3030" stroke="none"/>
<text x="353.50" y="184.90" font-size="7.6" fill="#2e2e38" font-weight="normal" font-style="normal" text-anchor="middle" stroke="#2e2e38" stroke-width="0.1">G3P</text>
<text x="395.40" y="184.80" font-size="7.4" fill="#1a1a1a" font-weight="normal" font-style="normal" text-anchor="middle" stroke="#1a1a1a" stroke-width="0.25">+++++</text>
<line x1="429.70" y1="186.60" x2="429.70" y2="180.80" stroke="#2a8a62" stroke-width="0.75" />
<path d="M429.70,179.20 L430.80,181.50 L428.60,181.50 Z" fill="#2a8a62" stroke="none"/>
<rect x="461.40" y="181.65" width="3.60" height="1.10" fill="#222" stroke="none" stroke-width="0" />
<line x1="496.90" y1="179.20" x2="496.90" y2="185.00" stroke="#bb3030" stroke-width="0.75" />
<path d="M496.90,186.60 L495.80,184.30 L498.00,184.30 Z" fill="#bb3030" stroke="none"/>
<text x="353.50" y="195.30" font-size="7.6" fill="#2e2e38" font-weight="normal" font-style="normal" text-anchor="middle" stroke="#2e2e38" stroke-width="0.1">3PG</text>
<text x="395.40" y="195.20" font-size="7.4" fill="#1a1a1a" font-weight="normal" font-style="normal" text-anchor="middle" stroke="#1a1a1a" stroke-width="0.25">++</text>
<line x1="429.70" y1="197.00" x2="429.70" y2="191.20" stroke="#2a8a62" stroke-width="0.75" />
<path d="M429.70,189.60 L430.80,191.90 L428.60,191.90 Z" fill="#2a8a62" stroke="none"/>
<rect x="461.40" y="192.05" width="3.60" height="1.10" fill="#222" stroke="none" stroke-width="0" />
<line x1="496.90" y1="189.60" x2="496.90" y2="195.40" stroke="#bb3030" stroke-width="0.75" />
<path d="M496.90,197.00 L495.80,194.70 L498.00,194.70 Z" fill="#bb3030" stroke="none"/>
<text x="353.50" y="205.70" font-size="7.6" fill="#2e2e38" font-weight="normal" font-style="normal" text-anchor="middle" stroke="#2e2e38" stroke-width="0.1">Pyruvate</text>
<rect x="393.80" y="202.60" width="3.20" height="0.80" fill="#333" stroke="none" stroke-width="0" />
<rect x="427.60" y="202.35" width="4.20" height="1.30" fill="#111" stroke="none" stroke-width="0" />
<rect x="461.40" y="202.45" width="3.60" height="1.10" fill="#222" stroke="none" stroke-width="0" />
<line x1="496.90" y1="200.00" x2="496.90" y2="205.80" stroke="#bb3030" stroke-width="0.75" />
<path d="M496.90,207.40 L495.80,205.10 L498.00,205.10 Z" fill="#bb3030" stroke="none"/>
<text x="353.50" y="216.10" font-size="7.6" fill="#2e2e38" font-weight="normal" font-style="normal" text-anchor="middle" stroke="#2e2e38" stroke-width="0.1">Lactate</text>
<text x="395.40" y="216.00" font-size="7.4" fill="#1a1a1a" font-weight="normal" font-style="normal" text-anchor="middle" stroke="#1a1a1a" stroke-width="0.25">+</text>
<line x1="429.70" y1="217.80" x2="429.70" y2="212.00" stroke="#2a8a62" stroke-width="0.75" />
<path d="M429.70,210.40 L430.80,212.70 L428.60,212.70 Z" fill="#2a8a62" stroke="none"/>
<rect x="461.40" y="212.85" width="3.60" height="1.10" fill="#222" stroke="none" stroke-width="0" />
<line x1="496.90" y1="210.40" x2="496.90" y2="216.20" stroke="#bb3030" stroke-width="0.75" />
<path d="M496.90,217.80 L495.80,215.50 L498.00,215.50 Z" fill="#bb3030" stroke="none"/>
<text x="353.50" y="226.50" font-size="7.6" fill="#2e2e38" font-weight="normal" font-style="normal" text-anchor="middle" stroke="#2e2e38" stroke-width="0.1">Serine</text>
<text x="395.40" y="226.40" font-size="7.4" fill="#1a1a1a" font-weight="normal" font-style="normal" text-anchor="middle" stroke="#1a1a1a" stroke-width="0.25">+++</text>
<line x1="429.70" y1="220.80" x2="429.70" y2="226.60" stroke="#bb3030" stroke-width="0.75" />
<path d="M429.70,228.20 L428.60,225.90 L430.80,225.90 Z" fill="#bb3030" stroke="none"/>
<rect x="461.40" y="223.25" width="3.60" height="1.10" fill="#222" stroke="none" stroke-width="0" />
<line x1="496.90" y1="228.20" x2="496.90" y2="222.40" stroke="#2a8a62" stroke-width="0.75" />
<path d="M496.90,220.80 L498.00,223.10 L495.80,223.10 Z" fill="#2a8a62" stroke="none"/>
<text x="353.50" y="236.90" font-size="7.6" fill="#2e2e38" font-weight="normal" font-style="normal" text-anchor="middle" stroke="#2e2e38" stroke-width="0.1">Glycine</text>
<text x="395.40" y="236.80" font-size="7.4" fill="#1a1a1a" font-weight="normal" font-style="normal" text-anchor="middle" stroke="#1a1a1a" stroke-width="0.25">++</text>
<line x1="429.70" y1="231.20" x2="429.70" y2="237.00" stroke="#bb3030" stroke-width="0.75" />
<path d="M429.70,238.60 L428.60,236.30 L430.80,236.30 Z" fill="#bb3030" stroke="none"/>
<rect x="461.40" y="233.65" width="3.60" height="1.10" fill="#222" stroke="none" stroke-width="0" />
<line x1="496.90" y1="238.60" x2="496.90" y2="232.80" stroke="#2a8a62" stroke-width="0.75" />
<path d="M496.90,231.20 L498.00,233.50 L495.80,233.50 Z" fill="#2a8a62" stroke="none"/>
<text x="353.50" y="247.30" font-size="7.6" fill="#2e2e38" font-weight="normal" font-style="normal" text-anchor="middle" stroke="#2e2e38" stroke-width="0.1">P-Serine</text>
<text x="395.40" y="247.20" font-size="7.4" fill="#1a1a1a" font-weight="normal" font-style="normal" text-anchor="middle" stroke="#1a1a1a" stroke-width="0.25">++</text>
<line x1="429.70" y1="249.00" x2="429.70" y2="243.20" stroke="#2a8a62" stroke-width="0.75" />
<path d="M429.70,241.60 L430.80,243.90 L428.60,243.90 Z" fill="#2a8a62" stroke="none"/>
<rect x="461.40" y="244.05" width="3.60" height="1.10" fill="#222" stroke="none" stroke-width="0" />
<line x1="496.90" y1="241.60" x2="496.90" y2="247.40" stroke="#bb3030" stroke-width="0.75" />
<path d="M496.90,249.00 L495.80,246.70 L498.00,246.70 Z" fill="#bb3030" stroke="none"/>
<text x="353.50" y="257.69" font-size="7.6" fill="#2e2e38" font-weight="normal" font-style="normal" text-anchor="middle" stroke="#2e2e38" stroke-width="0.1">Citrate</text>
<text x="395.40" y="257.59" font-size="7.4" fill="#1a1a1a" font-weight="normal" font-style="normal" text-anchor="middle" stroke="#1a1a1a" stroke-width="0.25">+</text>
<line x1="429.70" y1="259.39" x2="429.70" y2="253.59" stroke="#2a8a62" stroke-width="0.75" />
<path d="M429.70,251.99 L430.80,254.29 L428.60,254.29 Z" fill="#2a8a62" stroke="none"/>
<rect x="461.40" y="254.44" width="3.60" height="1.10" fill="#222" stroke="none" stroke-width="0" />
<line x1="496.90" y1="251.99" x2="496.90" y2="257.79" stroke="#bb3030" stroke-width="0.75" />
<path d="M496.90,259.39 L495.80,257.09 L498.00,257.09 Z" fill="#bb3030" stroke="none"/>
<text x="353.50" y="268.08" font-size="7.6" fill="#2e2e38" font-weight="normal" font-style="normal" text-anchor="middle" stroke="#2e2e38" stroke-width="0.1">Alpha-KG</text>
<text x="395.40" y="267.98" font-size="7.4" fill="#1a1a1a" font-weight="normal" font-style="normal" text-anchor="middle" stroke="#1a1a1a" stroke-width="0.25">++</text>
<line x1="429.70" y1="269.78" x2="429.70" y2="263.98" stroke="#2a8a62" stroke-width="0.75" />
<path d="M429.70,262.38 L430.80,264.68 L428.60,264.68 Z" fill="#2a8a62" stroke="none"/>
<rect x="461.40" y="264.83" width="3.60" height="1.10" fill="#222" stroke="none" stroke-width="0" />
<line x1="496.90" y1="262.38" x2="496.90" y2="268.18" stroke="#bb3030" stroke-width="0.75" />
<path d="M496.90,269.78 L495.80,267.48 L498.00,267.48 Z" fill="#bb3030" stroke="none"/>
<text x="353.50" y="278.47" font-size="7.6" fill="#2e2e38" font-weight="normal" font-style="normal" text-anchor="middle" stroke="#2e2e38" stroke-width="0.1">Succinate</text>
<text x="395.40" y="278.37" font-size="7.4" fill="#1a1a1a" font-weight="normal" font-style="normal" text-anchor="middle" stroke="#1a1a1a" stroke-width="0.25">+</text>
<line x1="429.70" y1="280.17" x2="429.70" y2="274.37" stroke="#2a8a62" stroke-width="0.75" />
<path d="M429.70,272.77 L430.80,275.07 L428.60,275.07 Z" fill="#2a8a62" stroke="none"/>
<rect x="461.40" y="275.22" width="3.60" height="1.10" fill="#222" stroke="none" stroke-width="0" />
<line x1="496.90" y1="272.77" x2="496.90" y2="278.57" stroke="#bb3030" stroke-width="0.75" />
<path d="M496.90,280.17 L495.80,277.87 L498.00,277.87 Z" fill="#bb3030" stroke="none"/>
<text x="353.50" y="288.86" font-size="7.6" fill="#2e2e38" font-weight="normal" font-style="normal" text-anchor="middle" stroke="#2e2e38" stroke-width="0.1">Fumarate</text>
<text x="395.40" y="288.76" font-size="7.4" fill="#1a1a1a" font-weight="normal" font-style="normal" text-anchor="middle" stroke="#1a1a1a" stroke-width="0.25">++</text>
<line x1="429.70" y1="290.56" x2="429.70" y2="284.76" stroke="#2a8a62" stroke-width="0.75" />
<path d="M429.70,283.16 L430.80,285.46 L428.60,285.46 Z" fill="#2a8a62" stroke="none"/>
<rect x="461.40" y="285.61" width="3.60" height="1.10" fill="#222" stroke="none" stroke-width="0" />
<line x1="496.90" y1="283.16" x2="496.90" y2="288.96" stroke="#bb3030" stroke-width="0.75" />
<path d="M496.90,290.56 L495.80,288.26 L498.00,288.26 Z" fill="#bb3030" stroke="none"/>
<text x="353.50" y="299.25" font-size="7.6" fill="#2e2e38" font-weight="normal" font-style="normal" text-anchor="middle" stroke="#2e2e38" stroke-width="0.1">Malate</text>
<text x="395.40" y="299.15" font-size="7.4" fill="#1a1a1a" font-weight="normal" font-style="normal" text-anchor="middle" stroke="#1a1a1a" stroke-width="0.25">+</text>
<line x1="429.70" y1="300.95" x2="429.70" y2="295.15" stroke="#2a8a62" stroke-width="0.75" />
<path d="M429.70,293.55 L430.80,295.85 L428.60,295.85 Z" fill="#2a8a62" stroke="none"/>
<rect x="461.40" y="296.00" width="3.60" height="1.10" fill="#222" stroke="none" stroke-width="0" />
<line x1="496.90" y1="293.55" x2="496.90" y2="299.35" stroke="#bb3030" stroke-width="0.75" />
<path d="M496.90,300.95 L495.80,298.65 L498.00,298.65 Z" fill="#bb3030" stroke="none"/>
<text x="353.50" y="309.64" font-size="7.6" fill="#2e2e38" font-weight="normal" font-style="normal" text-anchor="middle" stroke="#2e2e38" stroke-width="0.1">Asparagine</text>
<text x="395.40" y="309.54" font-size="7.4" fill="#1a1a1a" font-weight="normal" font-style="normal" text-anchor="middle" stroke="#1a1a1a" stroke-width="0.25">+++</text>
<line x1="429.70" y1="311.34" x2="429.70" y2="305.54" stroke="#2a8a62" stroke-width="0.75" />
<path d="M429.70,303.94 L430.80,306.24 L428.60,306.24 Z" fill="#2a8a62" stroke="none"/>
<rect x="461.40" y="306.39" width="3.60" height="1.10" fill="#222" stroke="none" stroke-width="0" />
<line x1="496.90" y1="303.94" x2="496.90" y2="309.74" stroke="#bb3030" stroke-width="0.75" />
<path d="M496.90,311.34 L495.80,309.04 L498.00,309.04 Z" fill="#bb3030" stroke="none"/>
<text x="353.50" y="320.03" font-size="7.6" fill="#2e2e38" font-weight="normal" font-style="normal" text-anchor="middle" stroke="#2e2e38" stroke-width="0.1">Aspartate</text>
<text x="395.40" y="319.93" font-size="7.4" fill="#1a1a1a" font-weight="normal" font-style="normal" text-anchor="middle" stroke="#1a1a1a" stroke-width="0.25">++</text>
<line x1="429.70" y1="321.73" x2="429.70" y2="315.93" stroke="#2a8a62" stroke-width="0.75" />
<path d="M429.70,314.33 L430.80,316.63 L428.60,316.63 Z" fill="#2a8a62" stroke="none"/>
<rect x="461.40" y="316.78" width="3.60" height="1.10" fill="#222" stroke="none" stroke-width="0" />
<line x1="496.90" y1="314.33" x2="496.90" y2="320.13" stroke="#bb3030" stroke-width="0.75" />
<path d="M496.90,321.73 L495.80,319.43 L498.00,319.43 Z" fill="#bb3030" stroke="none"/>
<text x="353.50" y="330.42" font-size="7.6" fill="#2e2e38" font-weight="normal" font-style="normal" text-anchor="middle" stroke="#2e2e38" stroke-width="0.1">Glutamine</text>
<text x="395.40" y="330.32" font-size="7.4" fill="#1a1a1a" font-weight="normal" font-style="normal" text-anchor="middle" stroke="#1a1a1a" stroke-width="0.25">++</text>
<line x1="429.70" y1="332.12" x2="429.70" y2="326.32" stroke="#2a8a62" stroke-width="0.75" />
<path d="M429.70,324.72 L430.80,327.02 L428.60,327.02 Z" fill="#2a8a62" stroke="none"/>
<rect x="461.40" y="327.17" width="3.60" height="1.10" fill="#222" stroke="none" stroke-width="0" />
<line x1="496.90" y1="324.72" x2="496.90" y2="330.52" stroke="#bb3030" stroke-width="0.75" />
<path d="M496.90,332.12 L495.80,329.82 L498.00,329.82 Z" fill="#bb3030" stroke="none"/>
<text x="353.50" y="340.81" font-size="7.6" fill="#2e2e38" font-weight="normal" font-style="normal" text-anchor="middle" stroke="#2e2e38" stroke-width="0.1">Glutamate</text>
<text x="395.40" y="340.71" font-size="7.4" fill="#1a1a1a" font-weight="normal" font-style="normal" text-anchor="middle" stroke="#1a1a1a" stroke-width="0.25">++</text>
<line x1="429.70" y1="342.51" x2="429.70" y2="336.71" stroke="#2a8a62" stroke-width="0.75" />
<path d="M429.70,335.11 L430.80,337.41 L428.60,337.41 Z" fill="#2a8a62" stroke="none"/>
<rect x="461.40" y="337.56" width="3.60" height="1.10" fill="#222" stroke="none" stroke-width="0" />
<line x1="496.90" y1="335.11" x2="496.90" y2="340.91" stroke="#bb3030" stroke-width="0.75" />
<path d="M496.90,342.51 L495.80,340.21 L498.00,340.21 Z" fill="#bb3030" stroke="none"/>
<line x1="328.50" y1="135.40" x2="513.30" y2="135.40" stroke="#4a4a4a" stroke-width="1.1" />
<line x1="328.50" y1="249.80" x2="513.30" y2="249.80" stroke="#4a4a4a" stroke-width="1.1" />
<line x1="328.50" y1="343.30" x2="513.30" y2="343.30" stroke="#4a4a4a" stroke-width="1.1" />
<line x1="513.30" y1="114.50" x2="513.30" y2="343.80" stroke="#5a5a5a" stroke-width="0.9" />
<text x="0" y="0" font-size="7.5" font-weight="bold" fill="#15152a" text-anchor="middle" stroke="#15152a" stroke-width="0.3" transform="translate(323.3,192.2) rotate(-90)">Glycolytic metabolites</text>
<text x="0" y="0" font-size="7.7" font-weight="bold" fill="#15152a" text-anchor="middle" stroke="#15152a" stroke-width="0.3" transform="translate(323.3,296.4) rotate(-90)">TCA Metabolites</text>
<rect x="144.20" y="363.00" width="83.10" height="24.30" fill="#dde4f2" stroke="none" stroke-width="0" />
<text x="185.75" y="374.03" font-size="7.85" fill="#1d2150" font-weight="bold" font-style="italic" text-anchor="middle" stroke="#1d2150" stroke-width="0.3">Purines/pyrimidines</text>
<text x="185.75" y="383.73" font-size="7.85" fill="#1d2150" font-weight="bold" font-style="italic" text-anchor="middle" stroke="#1d2150" stroke-width="0.3">amino acids</text>
<rect x="137.60" y="418.50" width="40.40" height="13.10" fill="#dde4f2" stroke="none" stroke-width="0" />
<text x="157.80" y="427.83" font-size="7.3" fill="#1d2150" font-weight="bold" font-style="italic" text-anchor="middle" stroke="#1d2150" stroke-width="0.3">Aspartate</text>
<rect x="428.20" y="385.40" width="73.80" height="13.80" fill="#dde4f2" stroke="none" stroke-width="0" />
<text x="465.10" y="395.03" font-size="7.3" fill="#1d2150" font-weight="bold" font-style="italic" text-anchor="middle" stroke="#1d2150" stroke-width="0.3">Fatty Acids, Sterols</text>
<rect x="402.30" y="606.50" width="43.10" height="13.50" fill="#dde4f2" stroke="none" stroke-width="0" />
<text x="423.85" y="615.96" font-size="7.4" fill="#1d2150" font-weight="bold" font-style="italic" text-anchor="middle" stroke="#1d2150" stroke-width="0.3">Glutamine</text>
<rect x="411.80" y="643.70" width="82.60" height="14.00" fill="#dde4f2" stroke="none" stroke-width="0" />
<text x="453.10" y="653.51" font-size="7.8" fill="#1d2150" font-weight="bold" font-style="italic" text-anchor="middle" stroke="#1d2150" stroke-width="0.3">Purines/amino acids</text>
<rect x="241.00" y="492.10" width="48.20" height="14.80" fill="#fbe5a0" stroke="none" stroke-width="0" />
<text x="265.10" y="502.62" font-size="8.1" fill="#1c1c2c" font-weight="bold" font-style="italic" text-anchor="middle" stroke="#1c1c2c" stroke-width="0.3">TCA Cycle</text>
<path d="M174.2,418.3 C178,410 181,402 181.2,395.2" stroke="#7c8494" stroke-width="0.6" fill="none" />
<path d="M181.30,392.40 L182.43,395.23 L180.03,395.17 Z" fill="#555d6a" stroke="none"/>
<path d="M124.6,447 C128,441 133,438 142,436 C150,434.5 156,433.5 161,431.6" stroke="#7c8494" stroke-width="0.65" fill="none" />
<path d="M174.6,416.3 C176,414 177.2,412 177.7,409.5" stroke="#7c8494" stroke-width="0.6" fill="none" />
<line x1="402.70" y1="393.90" x2="422.20" y2="393.90" stroke="#7a88a8" stroke-width="0.7" />
<path d="M424.60,393.90 L422.00,395.00 L422.00,392.80 Z" fill="#5a6888" stroke="none"/>
<path d="M411,591.5 C412,597 414,602 416.3,606.5" stroke="#7c8494" stroke-width="0.6" fill="none" />
<path d="M444.6,618.7 C451,624 455,630 456.5,638.5" stroke="#7c8494" stroke-width="0.6" fill="none" />
<path d="M456.70,641.50 L455.35,639.02 L457.54,638.80 Z" fill="#6a7488" stroke="none"/>
<text x="243.80" y="400.07" font-size="7.7" fill="#1e1e1e" font-weight="normal" font-style="normal" text-anchor="start" stroke="#1e1e1e" stroke-width="0.18">Acetyl-CoA</text>
<text x="209.00" y="423.17" font-size="7.7" fill="#1e1e1e" font-weight="normal" font-style="normal" text-anchor="start" stroke="#1e1e1e" stroke-width="0.18">OAA</text>
<text x="300.00" y="424.27" font-size="7.7" fill="#1e1e1e" font-weight="normal" font-style="normal" text-anchor="start" stroke="#1e1e1e" stroke-width="0.18">Citrate</text>
<text x="340.30" y="456.27" font-size="7.7" fill="#1e1e1e" font-weight="normal" font-style="normal" text-anchor="start" stroke="#1e1e1e" stroke-width="0.18">IC</text>
<text x="348.60" y="528.37" font-size="7.7" fill="#1e1e1e" font-weight="normal" font-style="normal" text-anchor="start" stroke="#1e1e1e" stroke-width="0.18">KG</text>
<text x="301.00" y="582.87" font-size="7.7" fill="#1e1e1e" font-weight="normal" font-style="normal" text-anchor="start" stroke="#1e1e1e" stroke-width="0.18">S-CoA</text>
<text x="195.60" y="582.87" font-size="7.7" fill="#1e1e1e" font-weight="normal" font-style="normal" text-anchor="start" stroke="#1e1e1e" stroke-width="0.18">Succinate</text>
<text x="163.60" y="541.57" font-size="7.7" fill="#1e1e1e" font-weight="normal" font-style="normal" text-anchor="start" stroke="#1e1e1e" stroke-width="0.18">Fumarate</text>
<text x="159.70" y="497.27" font-size="7.7" fill="#1e1e1e" font-weight="normal" font-style="normal" text-anchor="start" stroke="#1e1e1e" stroke-width="0.18">Malate</text>
<text x="202.00" y="454.97" font-size="7.7" fill="#1e1e1e" font-weight="normal" font-style="normal" text-anchor="start" stroke="#1e1e1e" stroke-width="0.18">NADH</text>
<text x="188.7" y="475.67" font-size="7.7" fill="#1e1e1e" stroke="#1e1e1e" stroke-width="0.18">NAD<tspan font-size="4.2" dy="-2.8" stroke-width="0">+</tspan></text>
<text x="191.4" y="521.27" font-size="7.7" fill="#1e1e1e" stroke="#1e1e1e" stroke-width="0.18">H<tspan font-size="5" dy="1.6">2</tspan><tspan dy="-1.6">O</tspan></text>
<text x="205.3" y="551.97" font-size="7.7" fill="#1e1e1e" stroke="#1e1e1e" stroke-width="0.18">FADH<tspan font-size="5" dy="1.6">2</tspan></text>
<text x="202.30" y="566.17" font-size="7.7" fill="#1e1e1e" font-weight="normal" font-style="normal" text-anchor="start" stroke="#1e1e1e" stroke-width="0.18">FAD</text>
<text x="240.50" y="578.87" font-size="7.7" fill="#1e1e1e" font-weight="normal" font-style="normal" text-anchor="start" stroke="#1e1e1e" stroke-width="0.18">GTP</text>
<text x="261.8" y="578.87" font-size="7.7" fill="#1e1e1e" stroke="#1e1e1e" stroke-width="0.18">GDP + P<tspan font-size="5" dy="1.6">i</tspan></text>
<text x="244.20" y="610.87" font-size="7.7" fill="#1e1e1e" font-weight="normal" font-style="normal" text-anchor="start" stroke="#1e1e1e" stroke-width="0.18">CoA</text>
<text x="322.4" y="477.87" font-size="7.7" fill="#1e1e1e" stroke="#1e1e1e" stroke-width="0.18">NAD<tspan font-size="4.2" dy="-2.8" stroke-width="0">+</tspan></text>
<text x="319.00" y="495.67" font-size="7.7" fill="#1e1e1e" font-weight="normal" font-style="normal" text-anchor="start" stroke="#1e1e1e" stroke-width="0.18">NADH</text>
<text x="366.8" y="498.07" font-size="7.7" fill="#1e1e1e" stroke="#1e1e1e" stroke-width="0.18">CO<tspan font-size="5" dy="1.8">2</tspan></text>
<text x="317.9" y="541.87" font-size="7.7" fill="#1e1e1e" stroke="#1e1e1e" stroke-width="0.18">NAD<tspan font-size="4.2" dy="-2.8" stroke-width="0">+</tspan></text>
<text x="301.70" y="555.37" font-size="7.7" fill="#1e1e1e" font-weight="normal" font-style="normal" text-anchor="start" stroke="#1e1e1e" stroke-width="0.18">NADH</text>
<text x="344.1" y="573.57" font-size="7.7" fill="#1e1e1e" stroke="#1e1e1e" stroke-width="0.18">CO<tspan font-size="5" dy="1.8">2</tspan></text>
<path d="M228.80,416.20 A91,91 0 0 1 297.41,414.36" stroke="#111" stroke-width="1.3" fill="none" />
<path d="M300.60,415.80 L295.14,415.74 L296.95,411.73 Z" fill="#111" stroke="none"/>
<path d="M319.40,427.40 L324.04,428.62 L321.69,431.61 Z" fill="#111" stroke="none"/>
<path d="M321.82,429.30 A140,140 0 0 1 339.91,445.62" stroke="#111" stroke-width="1.3" fill="none" />
<path d="M341.60,448.20 L337.60,445.56 L340.78,443.48 Z" fill="#111" stroke="none"/>
<path d="M348.00,457.80 A95,95 0 0 1 356.96,514.56" stroke="#111" stroke-width="1.3" fill="none" />
<path d="M356.30,518.00 L355.08,512.67 L359.40,513.50 Z" fill="#111" stroke="none"/>
<path d="M351.60,531.80 A95,95 0 0 1 321.02,573.73" stroke="#111" stroke-width="1.3" fill="none" />
<path d="M318.20,575.80 L320.93,571.07 L323.53,574.61 Z" fill="#111" stroke="none"/>
<path d="M301.20,585.20 A93,93 0 0 1 230.21,586.33" stroke="#2f6594" stroke-width="1.7" fill="none" />
<path d="M226.60,584.80 L232.73,584.68 L230.78,589.29 Z" fill="#2f6594" stroke="none"/>
<path d="M207.80,574.00 A93,93 0 0 1 183.35,549.80" stroke="#2f6594" stroke-width="1.7" fill="none" />
<path d="M181.40,546.40 L186.35,550.02 L182.01,552.50 Z" fill="#2f6594" stroke="none"/>
<path d="M175.40,532.20 A93,93 0 0 1 170.10,506.32" stroke="#2f6594" stroke-width="1.7" fill="none" />
<path d="M170.00,502.40 L172.64,507.93 L167.65,508.06 Z" fill="#2f6594" stroke="none"/>
<path d="M171.30,486.00 A92,92 0 0 1 209.03,425.85" stroke="#2f6594" stroke-width="1.7" fill="none" />
<path d="M212.30,423.70 L209.00,428.87 L206.25,424.69 Z" fill="#2f6594" stroke="none"/>
<path d="M262.6,402.6 C264.5,405.8 267.2,407.6 270.2,408.4" stroke="#111" stroke-width="0.7" fill="none" />
<path d="M273.20,409.20 L269.75,409.72 L270.48,407.01 Z" fill="#111" stroke="none"/>
<path d="M343.3,476.4 C349,476.6 353.6,480 355.4,486.5" stroke="#111" stroke-width="0.8" fill="none" />
<path d="M355.4,487.2 C354,490.5 350,492.4 345.3,492.6" stroke="#111" stroke-width="0.8" fill="none" />
<path d="M342.90,492.70 L345.82,491.24 L345.97,493.83 Z" fill="#111" stroke="none"/>
<path d="M356.5,489.0 C357.5,492 359.5,493.6 362.3,494.0" stroke="#111" stroke-width="0.8" fill="none" />
<path d="M364.60,494.30 L361.46,495.21 L361.79,492.63 Z" fill="#111" stroke="none"/>
<path d="M335.4,541.2 C339,543.5 340.8,547 340.2,554" stroke="#111" stroke-width="0.8" fill="none" />
<path d="M338.5,557.0 C335,555.8 331,555.2 327.5,555.3" stroke="#111" stroke-width="0.8" fill="none" />
<path d="M325.00,555.30 L328.00,554.00 L328.00,556.60 Z" fill="#111" stroke="none"/>
<path d="M338.8,557.6 C339.4,561 340.3,563 341.5,564.3" stroke="#111" stroke-width="0.8" fill="none" />
<path d="M342.60,566.20 L339.98,564.24 L342.24,562.95 Z" fill="#111" stroke="none"/>
<path d="M184.3,452.9 C187,450.8 191,450.6 196.8,451.6" stroke="#2f6594" stroke-width="1.1" fill="none" />
<path d="M199.40,451.90 L195.63,453.03 L196.03,449.86 Z" fill="#2f6594" stroke="none"/>
<path d="M191.5,467.3 C186.5,465 183.2,461.5 182.6,457.2" stroke="#2f6594" stroke-width="1.0" fill="none" />
<path d="M189.2,519.2 C186.5,521.8 182,522.6 176.5,519.2" stroke="#2f6594" stroke-width="1.0" fill="none" />
<path d="M173.60,518.00 L177.54,518.18 L176.10,521.04 Z" fill="#2f6594" stroke="none"/>
<path d="M194.6,560.2 C196.5,556.5 198.8,553.5 201.4,551.5" stroke="#2f6594" stroke-width="1.0" fill="none" />
<path d="M203.50,549.90 L201.67,553.39 L199.69,550.88 Z" fill="#2f6594" stroke="none"/>
<path d="M197.4,563.4 L200.6,563.4" stroke="#2f6594" stroke-width="0.9" fill="none" />
<path d="M271.2,581.8 C271.5,587.5 268.5,591.5 264.6,592.6 C260.5,591.5 257,588 255.2,584.4" stroke="#2f6594" stroke-width="1.0" fill="none" />
<path d="M254.20,581.40 L257.00,584.18 L254.01,585.34 Z" fill="#2f6594" stroke="none"/>
<path d="M260.5,592.8 C258,595 256,597.5 255.5,599.4" stroke="#2f6594" stroke-width="1.0" fill="none" />
<path d="M255.00,602.20 L253.90,598.42 L257.07,598.85 Z" fill="#2f6594" stroke="none"/>
</svg>
</body></html>
